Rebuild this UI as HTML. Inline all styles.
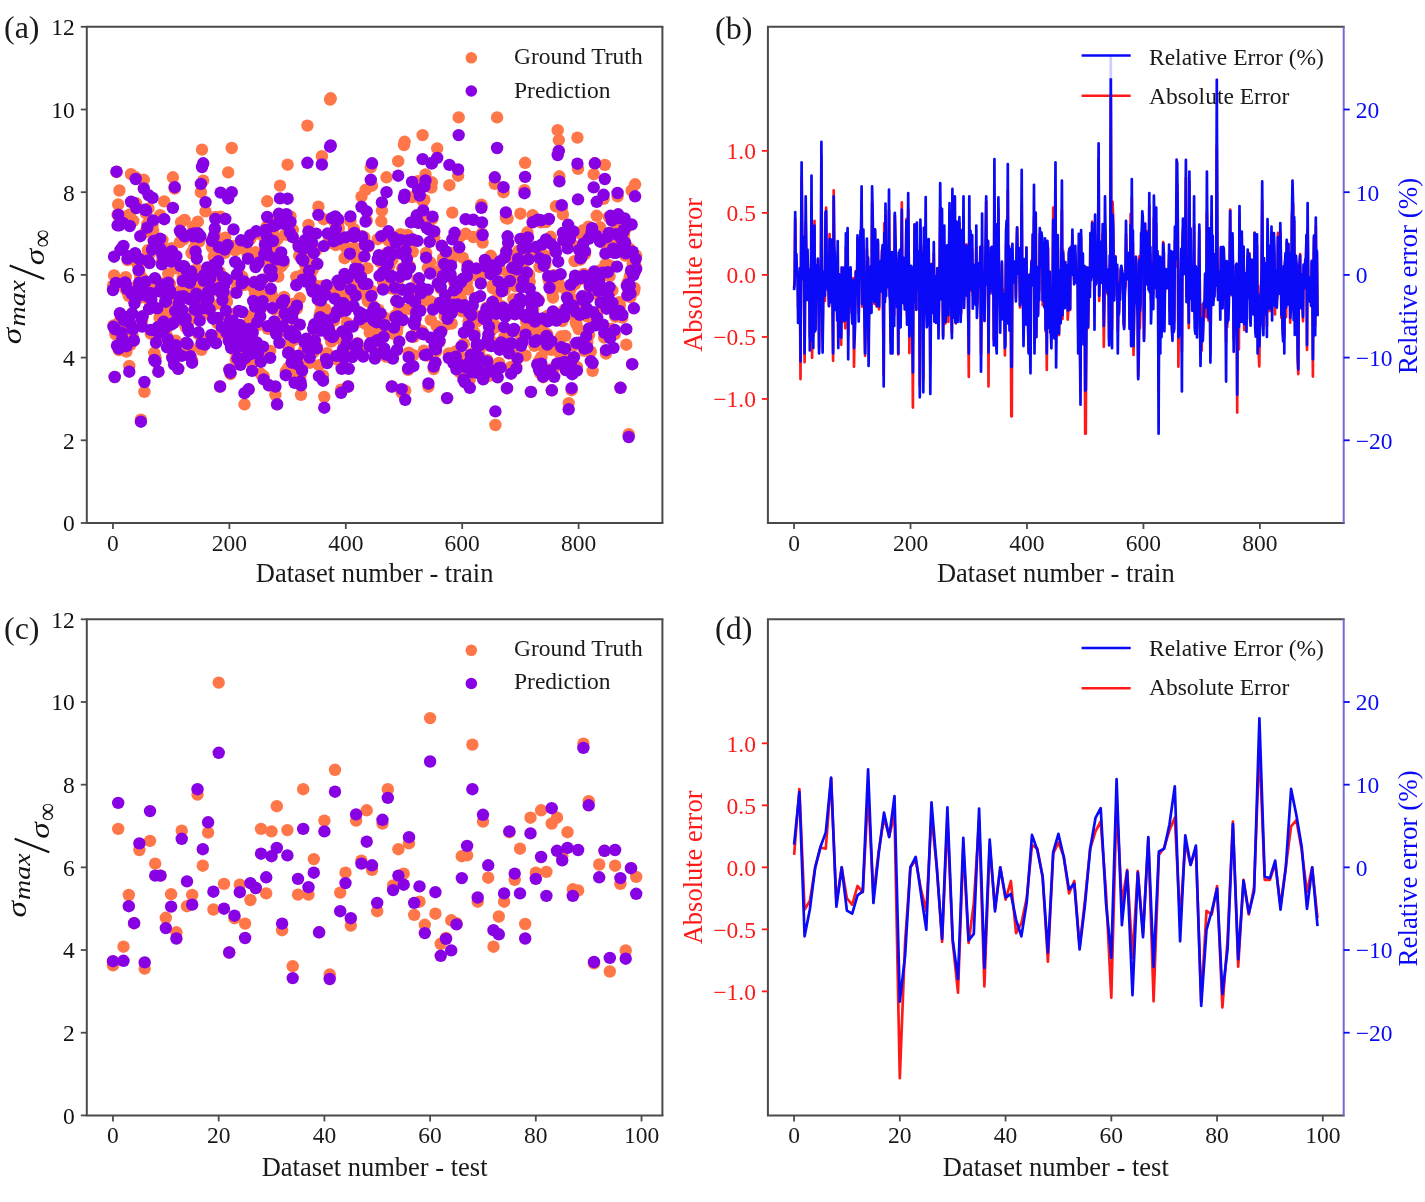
<!DOCTYPE html><html><head><meta charset="utf-8"><style>html,body{margin:0;padding:0;background:#fff;}svg{display:block;filter:blur(0.45px);}</style></head><body>
<svg width="1425" height="1202" viewBox="0 0 1425 1202" font-family='"Liberation Serif", serif' fill="#1a1a1a">
<rect width="1425" height="1202" fill="#fff"/>
<g fill="#ff7648">
<circle cx="113.0" cy="285.7" r="6.2"/>
<circle cx="113.5" cy="325.5" r="6.2"/>
<circle cx="114.1" cy="275.5" r="6.2"/>
<circle cx="114.7" cy="377.0" r="6.2"/>
<circle cx="115.3" cy="334.1" r="6.2"/>
<circle cx="115.9" cy="283.3" r="6.2"/>
<circle cx="116.5" cy="172.0" r="6.2"/>
<circle cx="117.0" cy="334.8" r="6.2"/>
<circle cx="117.6" cy="214.9" r="6.2"/>
<circle cx="118.2" cy="204.5" r="6.2"/>
<circle cx="118.8" cy="350.0" r="6.2"/>
<circle cx="119.4" cy="190.5" r="6.2"/>
<circle cx="119.9" cy="320.8" r="6.2"/>
<circle cx="120.5" cy="282.5" r="6.2"/>
<circle cx="121.1" cy="325.8" r="6.2"/>
<circle cx="121.7" cy="331.7" r="6.2"/>
<circle cx="122.3" cy="346.5" r="6.2"/>
<circle cx="122.9" cy="223.3" r="6.2"/>
<circle cx="123.4" cy="216.8" r="6.2"/>
<circle cx="124.0" cy="317.8" r="6.2"/>
<circle cx="124.6" cy="337.8" r="6.2"/>
<circle cx="125.2" cy="288.7" r="6.2"/>
<circle cx="125.8" cy="277.2" r="6.2"/>
<circle cx="126.4" cy="351.5" r="6.2"/>
<circle cx="126.9" cy="291.1" r="6.2"/>
<circle cx="127.5" cy="260.1" r="6.2"/>
<circle cx="128.1" cy="257.0" r="6.2"/>
<circle cx="128.7" cy="295.8" r="6.2"/>
<circle cx="129.3" cy="365.9" r="6.2"/>
<circle cx="129.8" cy="214.5" r="6.2"/>
<circle cx="130.4" cy="344.8" r="6.2"/>
<circle cx="131.0" cy="174.2" r="6.2"/>
<circle cx="131.6" cy="297.3" r="6.2"/>
<circle cx="132.2" cy="292.9" r="6.2"/>
<circle cx="132.8" cy="336.5" r="6.2"/>
<circle cx="133.3" cy="220.8" r="6.2"/>
<circle cx="133.9" cy="327.1" r="6.2"/>
<circle cx="134.5" cy="287.8" r="6.2"/>
<circle cx="135.1" cy="256.2" r="6.2"/>
<circle cx="135.7" cy="177.3" r="6.2"/>
<circle cx="136.2" cy="203.3" r="6.2"/>
<circle cx="136.8" cy="262.4" r="6.2"/>
<circle cx="137.4" cy="294.8" r="6.2"/>
<circle cx="138.0" cy="264.6" r="6.2"/>
<circle cx="138.6" cy="269.4" r="6.2"/>
<circle cx="139.2" cy="271.7" r="6.2"/>
<circle cx="139.7" cy="258.8" r="6.2"/>
<circle cx="140.3" cy="276.0" r="6.2"/>
<circle cx="140.9" cy="419.6" r="6.2"/>
<circle cx="141.5" cy="297.3" r="6.2"/>
<circle cx="142.1" cy="320.5" r="6.2"/>
<circle cx="142.6" cy="317.0" r="6.2"/>
<circle cx="143.2" cy="279.5" r="6.2"/>
<circle cx="143.8" cy="179.8" r="6.2"/>
<circle cx="144.4" cy="391.9" r="6.2"/>
<circle cx="145.0" cy="232.3" r="6.2"/>
<circle cx="145.6" cy="285.2" r="6.2"/>
<circle cx="146.1" cy="213.4" r="6.2"/>
<circle cx="146.7" cy="291.7" r="6.2"/>
<circle cx="147.3" cy="224.2" r="6.2"/>
<circle cx="147.9" cy="250.2" r="6.2"/>
<circle cx="148.5" cy="208.7" r="6.2"/>
<circle cx="149.1" cy="309.1" r="6.2"/>
<circle cx="149.6" cy="254.2" r="6.2"/>
<circle cx="150.2" cy="302.4" r="6.2"/>
<circle cx="150.8" cy="333.7" r="6.2"/>
<circle cx="151.4" cy="293.3" r="6.2"/>
<circle cx="152.0" cy="221.0" r="6.2"/>
<circle cx="152.5" cy="226.1" r="6.2"/>
<circle cx="153.1" cy="230.8" r="6.2"/>
<circle cx="153.7" cy="247.1" r="6.2"/>
<circle cx="154.3" cy="352.8" r="6.2"/>
<circle cx="154.9" cy="279.7" r="6.2"/>
<circle cx="155.5" cy="357.5" r="6.2"/>
<circle cx="156.0" cy="332.2" r="6.2"/>
<circle cx="156.6" cy="338.6" r="6.2"/>
<circle cx="157.2" cy="287.4" r="6.2"/>
<circle cx="157.8" cy="327.3" r="6.2"/>
<circle cx="158.4" cy="371.7" r="6.2"/>
<circle cx="158.9" cy="285.0" r="6.2"/>
<circle cx="159.5" cy="317.6" r="6.2"/>
<circle cx="160.1" cy="215.2" r="6.2"/>
<circle cx="160.7" cy="251.6" r="6.2"/>
<circle cx="161.3" cy="283.2" r="6.2"/>
<circle cx="161.9" cy="261.3" r="6.2"/>
<circle cx="162.4" cy="240.0" r="6.2"/>
<circle cx="163.0" cy="329.0" r="6.2"/>
<circle cx="163.6" cy="316.6" r="6.2"/>
<circle cx="164.2" cy="201.4" r="6.2"/>
<circle cx="164.8" cy="337.7" r="6.2"/>
<circle cx="165.3" cy="296.0" r="6.2"/>
<circle cx="165.9" cy="310.8" r="6.2"/>
<circle cx="166.5" cy="335.5" r="6.2"/>
<circle cx="167.1" cy="327.5" r="6.2"/>
<circle cx="167.7" cy="338.0" r="6.2"/>
<circle cx="168.3" cy="273.9" r="6.2"/>
<circle cx="168.8" cy="293.1" r="6.2"/>
<circle cx="169.4" cy="293.9" r="6.2"/>
<circle cx="170.0" cy="283.8" r="6.2"/>
<circle cx="170.6" cy="248.9" r="6.2"/>
<circle cx="171.2" cy="312.1" r="6.2"/>
<circle cx="171.8" cy="248.1" r="6.2"/>
<circle cx="172.3" cy="356.8" r="6.2"/>
<circle cx="172.9" cy="177.3" r="6.2"/>
<circle cx="173.5" cy="306.4" r="6.2"/>
<circle cx="174.1" cy="355.0" r="6.2"/>
<circle cx="174.7" cy="188.5" r="6.2"/>
<circle cx="175.2" cy="306.0" r="6.2"/>
<circle cx="175.8" cy="340.8" r="6.2"/>
<circle cx="176.4" cy="268.3" r="6.2"/>
<circle cx="177.0" cy="351.5" r="6.2"/>
<circle cx="177.6" cy="301.6" r="6.2"/>
<circle cx="178.2" cy="368.8" r="6.2"/>
<circle cx="178.7" cy="308.0" r="6.2"/>
<circle cx="179.3" cy="308.2" r="6.2"/>
<circle cx="179.9" cy="242.1" r="6.2"/>
<circle cx="180.5" cy="290.9" r="6.2"/>
<circle cx="181.1" cy="222.2" r="6.2"/>
<circle cx="181.6" cy="354.4" r="6.2"/>
<circle cx="182.2" cy="321.1" r="6.2"/>
<circle cx="182.8" cy="277.9" r="6.2"/>
<circle cx="183.4" cy="283.4" r="6.2"/>
<circle cx="184.0" cy="239.1" r="6.2"/>
<circle cx="184.6" cy="219.9" r="6.2"/>
<circle cx="185.1" cy="313.8" r="6.2"/>
<circle cx="185.7" cy="327.1" r="6.2"/>
<circle cx="186.3" cy="342.9" r="6.2"/>
<circle cx="186.9" cy="276.4" r="6.2"/>
<circle cx="187.5" cy="321.7" r="6.2"/>
<circle cx="188.0" cy="320.7" r="6.2"/>
<circle cx="188.6" cy="321.6" r="6.2"/>
<circle cx="189.2" cy="290.6" r="6.2"/>
<circle cx="189.8" cy="285.4" r="6.2"/>
<circle cx="190.4" cy="348.2" r="6.2"/>
<circle cx="191.0" cy="295.8" r="6.2"/>
<circle cx="191.5" cy="253.1" r="6.2"/>
<circle cx="192.1" cy="360.4" r="6.2"/>
<circle cx="192.7" cy="271.3" r="6.2"/>
<circle cx="193.3" cy="226.8" r="6.2"/>
<circle cx="193.9" cy="248.6" r="6.2"/>
<circle cx="194.5" cy="311.7" r="6.2"/>
<circle cx="195.0" cy="305.2" r="6.2"/>
<circle cx="195.6" cy="240.9" r="6.2"/>
<circle cx="196.2" cy="285.8" r="6.2"/>
<circle cx="196.8" cy="269.2" r="6.2"/>
<circle cx="197.4" cy="302.6" r="6.2"/>
<circle cx="197.9" cy="221.7" r="6.2"/>
<circle cx="198.5" cy="334.4" r="6.2"/>
<circle cx="199.1" cy="241.6" r="6.2"/>
<circle cx="199.7" cy="316.5" r="6.2"/>
<circle cx="200.3" cy="237.4" r="6.2"/>
<circle cx="200.9" cy="192.2" r="6.2"/>
<circle cx="201.4" cy="349.8" r="6.2"/>
<circle cx="202.0" cy="149.6" r="6.2"/>
<circle cx="202.6" cy="274.9" r="6.2"/>
<circle cx="203.2" cy="180.6" r="6.2"/>
<circle cx="203.8" cy="272.5" r="6.2"/>
<circle cx="204.3" cy="294.7" r="6.2"/>
<circle cx="204.9" cy="339.8" r="6.2"/>
<circle cx="205.5" cy="211.4" r="6.2"/>
<circle cx="206.1" cy="297.3" r="6.2"/>
<circle cx="206.7" cy="291.1" r="6.2"/>
<circle cx="207.3" cy="269.8" r="6.2"/>
<circle cx="207.8" cy="313.7" r="6.2"/>
<circle cx="208.4" cy="293.0" r="6.2"/>
<circle cx="209.0" cy="272.5" r="6.2"/>
<circle cx="209.6" cy="287.0" r="6.2"/>
<circle cx="210.2" cy="276.1" r="6.2"/>
<circle cx="210.7" cy="279.3" r="6.2"/>
<circle cx="211.3" cy="315.3" r="6.2"/>
<circle cx="211.9" cy="247.0" r="6.2"/>
<circle cx="212.5" cy="288.3" r="6.2"/>
<circle cx="213.1" cy="305.3" r="6.2"/>
<circle cx="213.7" cy="256.6" r="6.2"/>
<circle cx="214.2" cy="275.8" r="6.2"/>
<circle cx="214.8" cy="233.7" r="6.2"/>
<circle cx="215.4" cy="217.0" r="6.2"/>
<circle cx="216.0" cy="335.9" r="6.2"/>
<circle cx="216.6" cy="290.7" r="6.2"/>
<circle cx="217.2" cy="243.9" r="6.2"/>
<circle cx="217.7" cy="323.3" r="6.2"/>
<circle cx="218.3" cy="247.9" r="6.2"/>
<circle cx="218.9" cy="255.3" r="6.2"/>
<circle cx="219.5" cy="272.0" r="6.2"/>
<circle cx="220.1" cy="386.5" r="6.2"/>
<circle cx="220.6" cy="216.8" r="6.2"/>
<circle cx="221.2" cy="285.5" r="6.2"/>
<circle cx="221.8" cy="320.3" r="6.2"/>
<circle cx="222.4" cy="304.6" r="6.2"/>
<circle cx="223.0" cy="280.8" r="6.2"/>
<circle cx="223.6" cy="281.9" r="6.2"/>
<circle cx="224.1" cy="277.4" r="6.2"/>
<circle cx="224.7" cy="252.8" r="6.2"/>
<circle cx="225.3" cy="237.6" r="6.2"/>
<circle cx="225.9" cy="297.1" r="6.2"/>
<circle cx="226.5" cy="335.0" r="6.2"/>
<circle cx="227.0" cy="301.7" r="6.2"/>
<circle cx="227.6" cy="248.3" r="6.2"/>
<circle cx="228.2" cy="172.4" r="6.2"/>
<circle cx="228.8" cy="330.6" r="6.2"/>
<circle cx="229.4" cy="369.4" r="6.2"/>
<circle cx="230.0" cy="323.2" r="6.2"/>
<circle cx="230.5" cy="374.1" r="6.2"/>
<circle cx="231.1" cy="335.2" r="6.2"/>
<circle cx="231.7" cy="148.0" r="6.2"/>
<circle cx="232.3" cy="328.7" r="6.2"/>
<circle cx="232.9" cy="313.9" r="6.2"/>
<circle cx="233.5" cy="246.2" r="6.2"/>
<circle cx="234.0" cy="350.0" r="6.2"/>
<circle cx="234.6" cy="346.1" r="6.2"/>
<circle cx="235.2" cy="250.4" r="6.2"/>
<circle cx="235.8" cy="359.4" r="6.2"/>
<circle cx="236.4" cy="288.9" r="6.2"/>
<circle cx="236.9" cy="281.2" r="6.2"/>
<circle cx="237.5" cy="360.4" r="6.2"/>
<circle cx="238.1" cy="332.3" r="6.2"/>
<circle cx="238.7" cy="274.2" r="6.2"/>
<circle cx="239.3" cy="282.2" r="6.2"/>
<circle cx="239.9" cy="329.2" r="6.2"/>
<circle cx="240.4" cy="358.8" r="6.2"/>
<circle cx="241.0" cy="247.7" r="6.2"/>
<circle cx="241.6" cy="276.2" r="6.2"/>
<circle cx="242.2" cy="277.0" r="6.2"/>
<circle cx="242.8" cy="353.4" r="6.2"/>
<circle cx="243.3" cy="354.7" r="6.2"/>
<circle cx="243.9" cy="285.1" r="6.2"/>
<circle cx="244.5" cy="404.3" r="6.2"/>
<circle cx="245.1" cy="351.1" r="6.2"/>
<circle cx="245.7" cy="346.1" r="6.2"/>
<circle cx="246.3" cy="326.2" r="6.2"/>
<circle cx="246.8" cy="327.4" r="6.2"/>
<circle cx="247.4" cy="253.9" r="6.2"/>
<circle cx="248.0" cy="251.5" r="6.2"/>
<circle cx="248.6" cy="389.5" r="6.2"/>
<circle cx="249.2" cy="316.1" r="6.2"/>
<circle cx="249.7" cy="319.2" r="6.2"/>
<circle cx="250.3" cy="238.8" r="6.2"/>
<circle cx="250.9" cy="330.9" r="6.2"/>
<circle cx="251.5" cy="353.5" r="6.2"/>
<circle cx="252.1" cy="363.5" r="6.2"/>
<circle cx="252.7" cy="339.7" r="6.2"/>
<circle cx="253.2" cy="287.7" r="6.2"/>
<circle cx="253.8" cy="343.1" r="6.2"/>
<circle cx="254.4" cy="281.8" r="6.2"/>
<circle cx="255.0" cy="293.3" r="6.2"/>
<circle cx="255.6" cy="252.3" r="6.2"/>
<circle cx="256.2" cy="233.5" r="6.2"/>
<circle cx="256.7" cy="342.6" r="6.2"/>
<circle cx="257.3" cy="305.5" r="6.2"/>
<circle cx="257.9" cy="348.3" r="6.2"/>
<circle cx="258.5" cy="263.3" r="6.2"/>
<circle cx="259.1" cy="324.9" r="6.2"/>
<circle cx="259.6" cy="292.4" r="6.2"/>
<circle cx="260.2" cy="310.0" r="6.2"/>
<circle cx="260.8" cy="373.8" r="6.2"/>
<circle cx="261.4" cy="306.2" r="6.2"/>
<circle cx="262.0" cy="259.4" r="6.2"/>
<circle cx="262.6" cy="298.3" r="6.2"/>
<circle cx="263.1" cy="356.6" r="6.2"/>
<circle cx="263.7" cy="376.2" r="6.2"/>
<circle cx="264.3" cy="238.0" r="6.2"/>
<circle cx="264.9" cy="231.7" r="6.2"/>
<circle cx="265.5" cy="234.0" r="6.2"/>
<circle cx="266.0" cy="258.7" r="6.2"/>
<circle cx="266.6" cy="226.9" r="6.2"/>
<circle cx="267.2" cy="201.3" r="6.2"/>
<circle cx="267.8" cy="328.9" r="6.2"/>
<circle cx="268.4" cy="276.8" r="6.2"/>
<circle cx="269.0" cy="385.3" r="6.2"/>
<circle cx="269.5" cy="270.2" r="6.2"/>
<circle cx="270.1" cy="351.0" r="6.2"/>
<circle cx="270.7" cy="269.4" r="6.2"/>
<circle cx="271.3" cy="293.7" r="6.2"/>
<circle cx="271.9" cy="267.5" r="6.2"/>
<circle cx="272.4" cy="296.3" r="6.2"/>
<circle cx="273.0" cy="230.5" r="6.2"/>
<circle cx="273.6" cy="251.8" r="6.2"/>
<circle cx="274.2" cy="309.3" r="6.2"/>
<circle cx="274.8" cy="242.3" r="6.2"/>
<circle cx="275.4" cy="394.8" r="6.2"/>
<circle cx="275.9" cy="323.3" r="6.2"/>
<circle cx="276.5" cy="323.0" r="6.2"/>
<circle cx="277.1" cy="404.3" r="6.2"/>
<circle cx="277.7" cy="238.8" r="6.2"/>
<circle cx="278.3" cy="276.5" r="6.2"/>
<circle cx="278.9" cy="218.7" r="6.2"/>
<circle cx="279.4" cy="331.9" r="6.2"/>
<circle cx="280.0" cy="185.6" r="6.2"/>
<circle cx="280.6" cy="219.0" r="6.2"/>
<circle cx="281.2" cy="266.4" r="6.2"/>
<circle cx="281.8" cy="302.2" r="6.2"/>
<circle cx="282.3" cy="322.9" r="6.2"/>
<circle cx="282.9" cy="318.1" r="6.2"/>
<circle cx="283.5" cy="263.3" r="6.2"/>
<circle cx="284.1" cy="297.0" r="6.2"/>
<circle cx="284.7" cy="314.5" r="6.2"/>
<circle cx="285.3" cy="234.5" r="6.2"/>
<circle cx="285.8" cy="371.3" r="6.2"/>
<circle cx="286.4" cy="215.1" r="6.2"/>
<circle cx="287.0" cy="306.4" r="6.2"/>
<circle cx="287.6" cy="164.7" r="6.2"/>
<circle cx="288.2" cy="368.0" r="6.2"/>
<circle cx="288.7" cy="350.0" r="6.2"/>
<circle cx="289.3" cy="344.2" r="6.2"/>
<circle cx="289.9" cy="235.7" r="6.2"/>
<circle cx="290.5" cy="216.5" r="6.2"/>
<circle cx="291.1" cy="340.1" r="6.2"/>
<circle cx="291.7" cy="355.6" r="6.2"/>
<circle cx="292.2" cy="316.4" r="6.2"/>
<circle cx="292.8" cy="229.9" r="6.2"/>
<circle cx="293.4" cy="303.7" r="6.2"/>
<circle cx="294.0" cy="339.8" r="6.2"/>
<circle cx="294.6" cy="377.5" r="6.2"/>
<circle cx="295.1" cy="367.5" r="6.2"/>
<circle cx="295.7" cy="325.3" r="6.2"/>
<circle cx="296.3" cy="277.0" r="6.2"/>
<circle cx="296.9" cy="308.6" r="6.2"/>
<circle cx="297.5" cy="362.2" r="6.2"/>
<circle cx="298.1" cy="356.4" r="6.2"/>
<circle cx="298.6" cy="244.0" r="6.2"/>
<circle cx="299.2" cy="255.7" r="6.2"/>
<circle cx="299.8" cy="298.3" r="6.2"/>
<circle cx="300.4" cy="376.0" r="6.2"/>
<circle cx="301.0" cy="394.8" r="6.2"/>
<circle cx="301.6" cy="247.0" r="6.2"/>
<circle cx="302.1" cy="365.2" r="6.2"/>
<circle cx="302.7" cy="274.6" r="6.2"/>
<circle cx="303.3" cy="245.2" r="6.2"/>
<circle cx="303.9" cy="246.4" r="6.2"/>
<circle cx="304.5" cy="349.2" r="6.2"/>
<circle cx="305.0" cy="264.7" r="6.2"/>
<circle cx="305.6" cy="278.8" r="6.2"/>
<circle cx="306.2" cy="340.6" r="6.2"/>
<circle cx="306.8" cy="257.4" r="6.2"/>
<circle cx="307.4" cy="125.6" r="6.2"/>
<circle cx="308.0" cy="351.6" r="6.2"/>
<circle cx="308.5" cy="225.0" r="6.2"/>
<circle cx="309.1" cy="270.9" r="6.2"/>
<circle cx="309.7" cy="362.8" r="6.2"/>
<circle cx="310.3" cy="276.3" r="6.2"/>
<circle cx="310.9" cy="250.2" r="6.2"/>
<circle cx="311.4" cy="282.2" r="6.2"/>
<circle cx="312.0" cy="251.7" r="6.2"/>
<circle cx="312.6" cy="270.1" r="6.2"/>
<circle cx="313.2" cy="352.7" r="6.2"/>
<circle cx="313.8" cy="249.7" r="6.2"/>
<circle cx="314.4" cy="331.8" r="6.2"/>
<circle cx="314.9" cy="324.8" r="6.2"/>
<circle cx="315.5" cy="265.1" r="6.2"/>
<circle cx="316.1" cy="250.3" r="6.2"/>
<circle cx="316.7" cy="346.9" r="6.2"/>
<circle cx="317.3" cy="286.1" r="6.2"/>
<circle cx="317.8" cy="294.7" r="6.2"/>
<circle cx="318.4" cy="206.7" r="6.2"/>
<circle cx="319.0" cy="365.1" r="6.2"/>
<circle cx="319.6" cy="315.8" r="6.2"/>
<circle cx="320.2" cy="312.7" r="6.2"/>
<circle cx="320.8" cy="304.0" r="6.2"/>
<circle cx="321.3" cy="319.7" r="6.2"/>
<circle cx="321.9" cy="156.2" r="6.2"/>
<circle cx="322.5" cy="286.0" r="6.2"/>
<circle cx="323.1" cy="375.7" r="6.2"/>
<circle cx="323.7" cy="219.2" r="6.2"/>
<circle cx="324.3" cy="396.9" r="6.2"/>
<circle cx="324.8" cy="329.9" r="6.2"/>
<circle cx="325.4" cy="309.1" r="6.2"/>
<circle cx="326.0" cy="354.3" r="6.2"/>
<circle cx="326.6" cy="313.3" r="6.2"/>
<circle cx="327.2" cy="353.1" r="6.2"/>
<circle cx="327.7" cy="243.0" r="6.2"/>
<circle cx="328.3" cy="313.3" r="6.2"/>
<circle cx="328.9" cy="335.3" r="6.2"/>
<circle cx="329.5" cy="333.3" r="6.2"/>
<circle cx="330.1" cy="99.6" r="6.2"/>
<circle cx="330.7" cy="98.3" r="6.2"/>
<circle cx="331.2" cy="341.6" r="6.2"/>
<circle cx="331.8" cy="219.0" r="6.2"/>
<circle cx="332.4" cy="338.4" r="6.2"/>
<circle cx="333.0" cy="334.7" r="6.2"/>
<circle cx="333.6" cy="243.3" r="6.2"/>
<circle cx="334.1" cy="320.6" r="6.2"/>
<circle cx="334.7" cy="291.1" r="6.2"/>
<circle cx="335.3" cy="223.7" r="6.2"/>
<circle cx="335.9" cy="245.0" r="6.2"/>
<circle cx="336.5" cy="359.0" r="6.2"/>
<circle cx="337.1" cy="311.5" r="6.2"/>
<circle cx="337.6" cy="288.4" r="6.2"/>
<circle cx="338.2" cy="222.6" r="6.2"/>
<circle cx="338.8" cy="228.2" r="6.2"/>
<circle cx="339.4" cy="296.0" r="6.2"/>
<circle cx="340.0" cy="290.8" r="6.2"/>
<circle cx="340.5" cy="335.2" r="6.2"/>
<circle cx="341.1" cy="389.6" r="6.2"/>
<circle cx="341.7" cy="367.0" r="6.2"/>
<circle cx="342.3" cy="313.4" r="6.2"/>
<circle cx="342.9" cy="341.8" r="6.2"/>
<circle cx="343.5" cy="307.4" r="6.2"/>
<circle cx="344.0" cy="350.4" r="6.2"/>
<circle cx="344.6" cy="258.2" r="6.2"/>
<circle cx="345.2" cy="246.5" r="6.2"/>
<circle cx="345.8" cy="298.3" r="6.2"/>
<circle cx="346.4" cy="343.1" r="6.2"/>
<circle cx="347.0" cy="323.0" r="6.2"/>
<circle cx="347.5" cy="252.5" r="6.2"/>
<circle cx="348.1" cy="386.5" r="6.2"/>
<circle cx="348.7" cy="355.5" r="6.2"/>
<circle cx="349.3" cy="300.1" r="6.2"/>
<circle cx="349.9" cy="254.5" r="6.2"/>
<circle cx="350.4" cy="221.2" r="6.2"/>
<circle cx="351.0" cy="286.9" r="6.2"/>
<circle cx="351.6" cy="249.0" r="6.2"/>
<circle cx="352.2" cy="354.8" r="6.2"/>
<circle cx="352.8" cy="345.8" r="6.2"/>
<circle cx="353.4" cy="283.2" r="6.2"/>
<circle cx="353.9" cy="229.1" r="6.2"/>
<circle cx="354.5" cy="253.3" r="6.2"/>
<circle cx="355.1" cy="248.0" r="6.2"/>
<circle cx="355.7" cy="293.0" r="6.2"/>
<circle cx="356.3" cy="351.1" r="6.2"/>
<circle cx="356.8" cy="260.2" r="6.2"/>
<circle cx="357.4" cy="343.1" r="6.2"/>
<circle cx="358.0" cy="347.2" r="6.2"/>
<circle cx="358.6" cy="282.7" r="6.2"/>
<circle cx="359.2" cy="321.1" r="6.2"/>
<circle cx="359.8" cy="321.4" r="6.2"/>
<circle cx="360.3" cy="289.8" r="6.2"/>
<circle cx="360.9" cy="287.7" r="6.2"/>
<circle cx="361.5" cy="196.7" r="6.2"/>
<circle cx="362.1" cy="236.2" r="6.2"/>
<circle cx="362.7" cy="322.1" r="6.2"/>
<circle cx="363.2" cy="349.7" r="6.2"/>
<circle cx="363.8" cy="294.2" r="6.2"/>
<circle cx="364.4" cy="237.4" r="6.2"/>
<circle cx="365.0" cy="243.7" r="6.2"/>
<circle cx="365.6" cy="189.8" r="6.2"/>
<circle cx="366.2" cy="324.3" r="6.2"/>
<circle cx="366.7" cy="220.4" r="6.2"/>
<circle cx="367.3" cy="268.2" r="6.2"/>
<circle cx="367.9" cy="301.2" r="6.2"/>
<circle cx="368.5" cy="246.6" r="6.2"/>
<circle cx="369.1" cy="300.6" r="6.2"/>
<circle cx="369.7" cy="332.7" r="6.2"/>
<circle cx="370.2" cy="325.8" r="6.2"/>
<circle cx="370.8" cy="167.4" r="6.2"/>
<circle cx="371.4" cy="290.6" r="6.2"/>
<circle cx="372.0" cy="185.7" r="6.2"/>
<circle cx="372.6" cy="305.5" r="6.2"/>
<circle cx="373.1" cy="327.7" r="6.2"/>
<circle cx="373.7" cy="327.6" r="6.2"/>
<circle cx="374.3" cy="333.4" r="6.2"/>
<circle cx="374.9" cy="337.8" r="6.2"/>
<circle cx="375.5" cy="344.1" r="6.2"/>
<circle cx="376.1" cy="328.0" r="6.2"/>
<circle cx="376.6" cy="331.5" r="6.2"/>
<circle cx="377.2" cy="335.7" r="6.2"/>
<circle cx="377.8" cy="239.2" r="6.2"/>
<circle cx="378.4" cy="309.7" r="6.2"/>
<circle cx="379.0" cy="256.5" r="6.2"/>
<circle cx="379.5" cy="260.5" r="6.2"/>
<circle cx="380.1" cy="261.9" r="6.2"/>
<circle cx="380.7" cy="335.1" r="6.2"/>
<circle cx="381.3" cy="221.3" r="6.2"/>
<circle cx="381.9" cy="210.6" r="6.2"/>
<circle cx="382.5" cy="274.5" r="6.2"/>
<circle cx="383.0" cy="282.0" r="6.2"/>
<circle cx="383.6" cy="329.2" r="6.2"/>
<circle cx="384.2" cy="351.2" r="6.2"/>
<circle cx="384.8" cy="317.8" r="6.2"/>
<circle cx="385.4" cy="257.8" r="6.2"/>
<circle cx="386.0" cy="356.5" r="6.2"/>
<circle cx="386.5" cy="177.3" r="6.2"/>
<circle cx="387.1" cy="252.9" r="6.2"/>
<circle cx="387.7" cy="271.0" r="6.2"/>
<circle cx="388.3" cy="240.2" r="6.2"/>
<circle cx="388.9" cy="240.6" r="6.2"/>
<circle cx="389.4" cy="265.8" r="6.2"/>
<circle cx="390.0" cy="357.4" r="6.2"/>
<circle cx="390.6" cy="278.8" r="6.2"/>
<circle cx="391.2" cy="288.4" r="6.2"/>
<circle cx="391.8" cy="386.5" r="6.2"/>
<circle cx="392.4" cy="259.5" r="6.2"/>
<circle cx="392.9" cy="356.7" r="6.2"/>
<circle cx="393.5" cy="241.0" r="6.2"/>
<circle cx="394.1" cy="334.2" r="6.2"/>
<circle cx="394.7" cy="289.0" r="6.2"/>
<circle cx="395.3" cy="315.5" r="6.2"/>
<circle cx="395.8" cy="241.5" r="6.2"/>
<circle cx="396.4" cy="301.3" r="6.2"/>
<circle cx="397.0" cy="331.8" r="6.2"/>
<circle cx="397.6" cy="326.2" r="6.2"/>
<circle cx="398.2" cy="161.2" r="6.2"/>
<circle cx="398.8" cy="278.9" r="6.2"/>
<circle cx="399.3" cy="307.9" r="6.2"/>
<circle cx="399.9" cy="289.3" r="6.2"/>
<circle cx="400.5" cy="234.1" r="6.2"/>
<circle cx="401.1" cy="250.1" r="6.2"/>
<circle cx="401.7" cy="392.5" r="6.2"/>
<circle cx="402.2" cy="268.3" r="6.2"/>
<circle cx="402.8" cy="309.8" r="6.2"/>
<circle cx="403.4" cy="271.3" r="6.2"/>
<circle cx="404.0" cy="145.1" r="6.2"/>
<circle cx="404.6" cy="141.8" r="6.2"/>
<circle cx="405.2" cy="390.7" r="6.2"/>
<circle cx="405.7" cy="253.5" r="6.2"/>
<circle cx="406.3" cy="272.6" r="6.2"/>
<circle cx="406.9" cy="241.3" r="6.2"/>
<circle cx="407.5" cy="235.0" r="6.2"/>
<circle cx="408.1" cy="369.9" r="6.2"/>
<circle cx="408.7" cy="352.7" r="6.2"/>
<circle cx="409.2" cy="309.0" r="6.2"/>
<circle cx="409.8" cy="266.3" r="6.2"/>
<circle cx="410.4" cy="293.2" r="6.2"/>
<circle cx="411.0" cy="240.2" r="6.2"/>
<circle cx="411.6" cy="336.2" r="6.2"/>
<circle cx="412.1" cy="197.1" r="6.2"/>
<circle cx="412.7" cy="251.8" r="6.2"/>
<circle cx="413.3" cy="355.1" r="6.2"/>
<circle cx="413.9" cy="336.9" r="6.2"/>
<circle cx="414.5" cy="322.0" r="6.2"/>
<circle cx="415.1" cy="299.9" r="6.2"/>
<circle cx="415.6" cy="325.6" r="6.2"/>
<circle cx="416.2" cy="313.4" r="6.2"/>
<circle cx="416.8" cy="217.9" r="6.2"/>
<circle cx="417.4" cy="279.6" r="6.2"/>
<circle cx="418.0" cy="181.1" r="6.2"/>
<circle cx="418.5" cy="222.5" r="6.2"/>
<circle cx="419.1" cy="287.8" r="6.2"/>
<circle cx="419.7" cy="197.7" r="6.2"/>
<circle cx="420.3" cy="308.8" r="6.2"/>
<circle cx="420.9" cy="292.8" r="6.2"/>
<circle cx="421.5" cy="301.4" r="6.2"/>
<circle cx="422.0" cy="331.0" r="6.2"/>
<circle cx="422.6" cy="135.1" r="6.2"/>
<circle cx="423.2" cy="201.3" r="6.2"/>
<circle cx="423.8" cy="350.7" r="6.2"/>
<circle cx="424.4" cy="199.7" r="6.2"/>
<circle cx="424.9" cy="354.1" r="6.2"/>
<circle cx="425.5" cy="174.5" r="6.2"/>
<circle cx="426.1" cy="252.9" r="6.2"/>
<circle cx="426.7" cy="221.2" r="6.2"/>
<circle cx="427.3" cy="355.6" r="6.2"/>
<circle cx="427.9" cy="267.9" r="6.2"/>
<circle cx="428.4" cy="386.7" r="6.2"/>
<circle cx="429.0" cy="222.2" r="6.2"/>
<circle cx="429.6" cy="300.8" r="6.2"/>
<circle cx="430.2" cy="262.3" r="6.2"/>
<circle cx="430.8" cy="319.8" r="6.2"/>
<circle cx="431.4" cy="187.6" r="6.2"/>
<circle cx="431.9" cy="182.3" r="6.2"/>
<circle cx="432.5" cy="218.7" r="6.2"/>
<circle cx="433.1" cy="302.7" r="6.2"/>
<circle cx="433.7" cy="369.1" r="6.2"/>
<circle cx="434.3" cy="237.6" r="6.2"/>
<circle cx="434.8" cy="345.1" r="6.2"/>
<circle cx="435.4" cy="362.3" r="6.2"/>
<circle cx="436.0" cy="351.5" r="6.2"/>
<circle cx="436.6" cy="326.1" r="6.2"/>
<circle cx="437.2" cy="148.4" r="6.2"/>
<circle cx="437.8" cy="271.4" r="6.2"/>
<circle cx="438.3" cy="338.1" r="6.2"/>
<circle cx="438.9" cy="328.1" r="6.2"/>
<circle cx="439.5" cy="342.1" r="6.2"/>
<circle cx="440.1" cy="305.0" r="6.2"/>
<circle cx="440.7" cy="288.7" r="6.2"/>
<circle cx="441.2" cy="331.0" r="6.2"/>
<circle cx="441.8" cy="246.2" r="6.2"/>
<circle cx="442.4" cy="263.4" r="6.2"/>
<circle cx="443.0" cy="258.3" r="6.2"/>
<circle cx="443.6" cy="304.0" r="6.2"/>
<circle cx="444.2" cy="260.8" r="6.2"/>
<circle cx="444.7" cy="316.0" r="6.2"/>
<circle cx="445.3" cy="300.2" r="6.2"/>
<circle cx="445.9" cy="255.0" r="6.2"/>
<circle cx="446.5" cy="272.3" r="6.2"/>
<circle cx="447.1" cy="398.1" r="6.2"/>
<circle cx="447.6" cy="324.2" r="6.2"/>
<circle cx="448.2" cy="302.0" r="6.2"/>
<circle cx="448.8" cy="353.4" r="6.2"/>
<circle cx="449.4" cy="185.2" r="6.2"/>
<circle cx="450.0" cy="252.8" r="6.2"/>
<circle cx="450.6" cy="300.2" r="6.2"/>
<circle cx="451.1" cy="260.8" r="6.2"/>
<circle cx="451.7" cy="323.5" r="6.2"/>
<circle cx="452.3" cy="212.6" r="6.2"/>
<circle cx="452.9" cy="293.8" r="6.2"/>
<circle cx="453.5" cy="361.8" r="6.2"/>
<circle cx="454.1" cy="282.1" r="6.2"/>
<circle cx="454.6" cy="238.9" r="6.2"/>
<circle cx="455.2" cy="285.0" r="6.2"/>
<circle cx="455.8" cy="351.4" r="6.2"/>
<circle cx="456.4" cy="361.2" r="6.2"/>
<circle cx="457.0" cy="254.2" r="6.2"/>
<circle cx="457.5" cy="281.6" r="6.2"/>
<circle cx="458.1" cy="175.7" r="6.2"/>
<circle cx="458.7" cy="117.4" r="6.2"/>
<circle cx="459.3" cy="237.3" r="6.2"/>
<circle cx="459.9" cy="372.3" r="6.2"/>
<circle cx="460.5" cy="292.4" r="6.2"/>
<circle cx="461.0" cy="299.2" r="6.2"/>
<circle cx="461.6" cy="357.7" r="6.2"/>
<circle cx="462.2" cy="311.3" r="6.2"/>
<circle cx="462.8" cy="257.6" r="6.2"/>
<circle cx="463.4" cy="373.4" r="6.2"/>
<circle cx="463.9" cy="343.7" r="6.2"/>
<circle cx="464.5" cy="309.0" r="6.2"/>
<circle cx="465.1" cy="382.4" r="6.2"/>
<circle cx="465.7" cy="233.8" r="6.2"/>
<circle cx="466.3" cy="365.6" r="6.2"/>
<circle cx="466.9" cy="282.3" r="6.2"/>
<circle cx="467.4" cy="264.7" r="6.2"/>
<circle cx="468.0" cy="289.3" r="6.2"/>
<circle cx="468.6" cy="322.0" r="6.2"/>
<circle cx="469.2" cy="319.1" r="6.2"/>
<circle cx="469.8" cy="379.4" r="6.2"/>
<circle cx="470.3" cy="355.6" r="6.2"/>
<circle cx="470.9" cy="354.3" r="6.2"/>
<circle cx="471.5" cy="317.8" r="6.2"/>
<circle cx="472.1" cy="365.9" r="6.2"/>
<circle cx="472.7" cy="324.6" r="6.2"/>
<circle cx="473.3" cy="237.0" r="6.2"/>
<circle cx="473.8" cy="372.5" r="6.2"/>
<circle cx="474.4" cy="333.0" r="6.2"/>
<circle cx="475.0" cy="315.3" r="6.2"/>
<circle cx="475.6" cy="350.9" r="6.2"/>
<circle cx="476.2" cy="275.5" r="6.2"/>
<circle cx="476.8" cy="346.5" r="6.2"/>
<circle cx="477.3" cy="321.0" r="6.2"/>
<circle cx="477.9" cy="372.9" r="6.2"/>
<circle cx="478.5" cy="360.3" r="6.2"/>
<circle cx="479.1" cy="354.1" r="6.2"/>
<circle cx="479.7" cy="348.9" r="6.2"/>
<circle cx="480.2" cy="277.7" r="6.2"/>
<circle cx="480.8" cy="270.3" r="6.2"/>
<circle cx="481.4" cy="204.8" r="6.2"/>
<circle cx="482.0" cy="233.4" r="6.2"/>
<circle cx="482.6" cy="242.5" r="6.2"/>
<circle cx="483.2" cy="368.8" r="6.2"/>
<circle cx="483.7" cy="315.7" r="6.2"/>
<circle cx="484.3" cy="315.6" r="6.2"/>
<circle cx="484.9" cy="261.8" r="6.2"/>
<circle cx="485.5" cy="262.0" r="6.2"/>
<circle cx="486.1" cy="319.5" r="6.2"/>
<circle cx="486.6" cy="307.7" r="6.2"/>
<circle cx="487.2" cy="360.0" r="6.2"/>
<circle cx="487.8" cy="345.2" r="6.2"/>
<circle cx="488.4" cy="322.4" r="6.2"/>
<circle cx="489.0" cy="317.8" r="6.2"/>
<circle cx="489.6" cy="375.7" r="6.2"/>
<circle cx="490.1" cy="339.9" r="6.2"/>
<circle cx="490.7" cy="255.8" r="6.2"/>
<circle cx="491.3" cy="330.6" r="6.2"/>
<circle cx="491.9" cy="272.4" r="6.2"/>
<circle cx="492.5" cy="285.6" r="6.2"/>
<circle cx="493.0" cy="288.4" r="6.2"/>
<circle cx="493.6" cy="324.1" r="6.2"/>
<circle cx="494.2" cy="373.4" r="6.2"/>
<circle cx="494.8" cy="183.9" r="6.2"/>
<circle cx="495.4" cy="425.0" r="6.2"/>
<circle cx="496.0" cy="299.8" r="6.2"/>
<circle cx="496.5" cy="326.8" r="6.2"/>
<circle cx="497.1" cy="117.4" r="6.2"/>
<circle cx="497.7" cy="365.8" r="6.2"/>
<circle cx="498.3" cy="263.2" r="6.2"/>
<circle cx="498.9" cy="362.9" r="6.2"/>
<circle cx="499.5" cy="346.4" r="6.2"/>
<circle cx="500.0" cy="269.3" r="6.2"/>
<circle cx="500.6" cy="342.1" r="6.2"/>
<circle cx="501.2" cy="349.1" r="6.2"/>
<circle cx="501.8" cy="306.2" r="6.2"/>
<circle cx="502.4" cy="288.3" r="6.2"/>
<circle cx="502.9" cy="311.5" r="6.2"/>
<circle cx="503.5" cy="192.2" r="6.2"/>
<circle cx="504.1" cy="337.5" r="6.2"/>
<circle cx="504.7" cy="290.1" r="6.2"/>
<circle cx="505.3" cy="309.5" r="6.2"/>
<circle cx="505.9" cy="217.8" r="6.2"/>
<circle cx="506.4" cy="250.9" r="6.2"/>
<circle cx="507.0" cy="388.2" r="6.2"/>
<circle cx="507.6" cy="218.6" r="6.2"/>
<circle cx="508.2" cy="274.1" r="6.2"/>
<circle cx="508.8" cy="347.9" r="6.2"/>
<circle cx="509.3" cy="353.5" r="6.2"/>
<circle cx="509.9" cy="278.7" r="6.2"/>
<circle cx="510.5" cy="312.3" r="6.2"/>
<circle cx="511.1" cy="366.9" r="6.2"/>
<circle cx="511.7" cy="345.0" r="6.2"/>
<circle cx="512.3" cy="257.5" r="6.2"/>
<circle cx="512.8" cy="347.7" r="6.2"/>
<circle cx="513.4" cy="299.2" r="6.2"/>
<circle cx="514.0" cy="314.1" r="6.2"/>
<circle cx="514.6" cy="307.5" r="6.2"/>
<circle cx="515.2" cy="314.0" r="6.2"/>
<circle cx="515.7" cy="286.3" r="6.2"/>
<circle cx="516.3" cy="366.8" r="6.2"/>
<circle cx="516.9" cy="271.6" r="6.2"/>
<circle cx="517.5" cy="357.5" r="6.2"/>
<circle cx="518.1" cy="273.7" r="6.2"/>
<circle cx="518.7" cy="250.6" r="6.2"/>
<circle cx="519.2" cy="278.0" r="6.2"/>
<circle cx="519.8" cy="283.1" r="6.2"/>
<circle cx="520.4" cy="213.7" r="6.2"/>
<circle cx="521.0" cy="336.0" r="6.2"/>
<circle cx="521.6" cy="266.9" r="6.2"/>
<circle cx="522.2" cy="331.8" r="6.2"/>
<circle cx="522.7" cy="238.8" r="6.2"/>
<circle cx="523.3" cy="269.8" r="6.2"/>
<circle cx="523.9" cy="315.4" r="6.2"/>
<circle cx="524.5" cy="190.2" r="6.2"/>
<circle cx="525.1" cy="162.8" r="6.2"/>
<circle cx="525.6" cy="355.5" r="6.2"/>
<circle cx="526.2" cy="321.6" r="6.2"/>
<circle cx="526.8" cy="260.4" r="6.2"/>
<circle cx="527.4" cy="232.3" r="6.2"/>
<circle cx="528.0" cy="252.7" r="6.2"/>
<circle cx="528.6" cy="258.6" r="6.2"/>
<circle cx="529.1" cy="274.7" r="6.2"/>
<circle cx="529.7" cy="281.7" r="6.2"/>
<circle cx="530.3" cy="318.2" r="6.2"/>
<circle cx="530.9" cy="391.9" r="6.2"/>
<circle cx="531.5" cy="327.6" r="6.2"/>
<circle cx="532.0" cy="300.1" r="6.2"/>
<circle cx="532.6" cy="215.1" r="6.2"/>
<circle cx="533.2" cy="309.5" r="6.2"/>
<circle cx="533.8" cy="305.1" r="6.2"/>
<circle cx="534.4" cy="345.8" r="6.2"/>
<circle cx="535.0" cy="318.9" r="6.2"/>
<circle cx="535.5" cy="340.4" r="6.2"/>
<circle cx="536.1" cy="252.6" r="6.2"/>
<circle cx="536.7" cy="334.5" r="6.2"/>
<circle cx="537.3" cy="364.3" r="6.2"/>
<circle cx="537.9" cy="220.8" r="6.2"/>
<circle cx="538.5" cy="299.8" r="6.2"/>
<circle cx="539.0" cy="360.9" r="6.2"/>
<circle cx="539.6" cy="266.8" r="6.2"/>
<circle cx="540.2" cy="373.2" r="6.2"/>
<circle cx="540.8" cy="222.3" r="6.2"/>
<circle cx="541.4" cy="357.0" r="6.2"/>
<circle cx="541.9" cy="253.6" r="6.2"/>
<circle cx="542.5" cy="324.7" r="6.2"/>
<circle cx="543.1" cy="377.2" r="6.2"/>
<circle cx="543.7" cy="260.7" r="6.2"/>
<circle cx="544.3" cy="255.6" r="6.2"/>
<circle cx="544.9" cy="349.4" r="6.2"/>
<circle cx="545.4" cy="264.4" r="6.2"/>
<circle cx="546.0" cy="222.0" r="6.2"/>
<circle cx="546.6" cy="338.6" r="6.2"/>
<circle cx="547.2" cy="334.2" r="6.2"/>
<circle cx="547.8" cy="315.6" r="6.2"/>
<circle cx="548.3" cy="278.3" r="6.2"/>
<circle cx="548.9" cy="240.8" r="6.2"/>
<circle cx="549.5" cy="282.5" r="6.2"/>
<circle cx="550.1" cy="369.7" r="6.2"/>
<circle cx="550.7" cy="236.8" r="6.2"/>
<circle cx="551.3" cy="349.9" r="6.2"/>
<circle cx="551.8" cy="390.3" r="6.2"/>
<circle cx="552.4" cy="292.8" r="6.2"/>
<circle cx="553.0" cy="297.5" r="6.2"/>
<circle cx="553.6" cy="275.3" r="6.2"/>
<circle cx="554.2" cy="367.7" r="6.2"/>
<circle cx="554.7" cy="250.5" r="6.2"/>
<circle cx="555.3" cy="319.7" r="6.2"/>
<circle cx="555.9" cy="206.3" r="6.2"/>
<circle cx="556.5" cy="320.3" r="6.2"/>
<circle cx="557.1" cy="364.3" r="6.2"/>
<circle cx="557.7" cy="130.2" r="6.2"/>
<circle cx="558.2" cy="281.7" r="6.2"/>
<circle cx="558.8" cy="140.1" r="6.2"/>
<circle cx="559.4" cy="176.3" r="6.2"/>
<circle cx="560.0" cy="353.7" r="6.2"/>
<circle cx="560.6" cy="286.6" r="6.2"/>
<circle cx="561.2" cy="336.5" r="6.2"/>
<circle cx="561.7" cy="208.5" r="6.2"/>
<circle cx="562.3" cy="321.0" r="6.2"/>
<circle cx="562.9" cy="214.4" r="6.2"/>
<circle cx="563.5" cy="240.8" r="6.2"/>
<circle cx="564.1" cy="310.2" r="6.2"/>
<circle cx="564.6" cy="360.3" r="6.2"/>
<circle cx="565.2" cy="335.9" r="6.2"/>
<circle cx="565.8" cy="370.1" r="6.2"/>
<circle cx="566.4" cy="315.0" r="6.2"/>
<circle cx="567.0" cy="291.3" r="6.2"/>
<circle cx="567.6" cy="245.3" r="6.2"/>
<circle cx="568.1" cy="232.0" r="6.2"/>
<circle cx="568.7" cy="403.1" r="6.2"/>
<circle cx="569.3" cy="289.1" r="6.2"/>
<circle cx="569.9" cy="230.5" r="6.2"/>
<circle cx="570.5" cy="289.2" r="6.2"/>
<circle cx="571.0" cy="358.5" r="6.2"/>
<circle cx="571.6" cy="390.2" r="6.2"/>
<circle cx="572.2" cy="366.7" r="6.2"/>
<circle cx="572.8" cy="299.5" r="6.2"/>
<circle cx="573.4" cy="245.5" r="6.2"/>
<circle cx="574.0" cy="345.6" r="6.2"/>
<circle cx="574.5" cy="261.1" r="6.2"/>
<circle cx="575.1" cy="284.0" r="6.2"/>
<circle cx="575.7" cy="321.7" r="6.2"/>
<circle cx="576.3" cy="324.1" r="6.2"/>
<circle cx="576.9" cy="367.0" r="6.2"/>
<circle cx="577.4" cy="137.6" r="6.2"/>
<circle cx="578.0" cy="168.9" r="6.2"/>
<circle cx="578.6" cy="329.1" r="6.2"/>
<circle cx="579.2" cy="233.2" r="6.2"/>
<circle cx="579.8" cy="309.4" r="6.2"/>
<circle cx="580.4" cy="259.7" r="6.2"/>
<circle cx="580.9" cy="303.0" r="6.2"/>
<circle cx="581.5" cy="256.9" r="6.2"/>
<circle cx="582.1" cy="278.5" r="6.2"/>
<circle cx="582.7" cy="304.5" r="6.2"/>
<circle cx="583.3" cy="230.1" r="6.2"/>
<circle cx="583.9" cy="273.9" r="6.2"/>
<circle cx="584.4" cy="350.9" r="6.2"/>
<circle cx="585.0" cy="254.0" r="6.2"/>
<circle cx="585.6" cy="296.1" r="6.2"/>
<circle cx="586.2" cy="348.2" r="6.2"/>
<circle cx="586.8" cy="316.3" r="6.2"/>
<circle cx="587.3" cy="342.1" r="6.2"/>
<circle cx="587.9" cy="295.4" r="6.2"/>
<circle cx="588.5" cy="226.7" r="6.2"/>
<circle cx="589.1" cy="335.1" r="6.2"/>
<circle cx="589.7" cy="283.6" r="6.2"/>
<circle cx="590.3" cy="289.8" r="6.2"/>
<circle cx="590.8" cy="351.7" r="6.2"/>
<circle cx="591.4" cy="233.2" r="6.2"/>
<circle cx="592.0" cy="237.1" r="6.2"/>
<circle cx="592.6" cy="370.8" r="6.2"/>
<circle cx="593.2" cy="319.2" r="6.2"/>
<circle cx="593.7" cy="174.2" r="6.2"/>
<circle cx="594.3" cy="272.7" r="6.2"/>
<circle cx="594.9" cy="163.3" r="6.2"/>
<circle cx="595.5" cy="317.2" r="6.2"/>
<circle cx="596.1" cy="228.9" r="6.2"/>
<circle cx="596.7" cy="215.8" r="6.2"/>
<circle cx="597.2" cy="313.0" r="6.2"/>
<circle cx="597.8" cy="294.5" r="6.2"/>
<circle cx="598.4" cy="285.5" r="6.2"/>
<circle cx="599.0" cy="293.3" r="6.2"/>
<circle cx="599.6" cy="290.2" r="6.2"/>
<circle cx="600.1" cy="227.3" r="6.2"/>
<circle cx="600.7" cy="297.9" r="6.2"/>
<circle cx="601.3" cy="270.0" r="6.2"/>
<circle cx="601.9" cy="307.5" r="6.2"/>
<circle cx="602.5" cy="275.4" r="6.2"/>
<circle cx="603.1" cy="303.9" r="6.2"/>
<circle cx="603.6" cy="198.9" r="6.2"/>
<circle cx="604.2" cy="337.6" r="6.2"/>
<circle cx="604.8" cy="164.9" r="6.2"/>
<circle cx="605.4" cy="264.5" r="6.2"/>
<circle cx="606.0" cy="353.5" r="6.2"/>
<circle cx="606.6" cy="300.8" r="6.2"/>
<circle cx="607.1" cy="247.5" r="6.2"/>
<circle cx="607.7" cy="264.7" r="6.2"/>
<circle cx="608.3" cy="301.9" r="6.2"/>
<circle cx="608.9" cy="217.0" r="6.2"/>
<circle cx="609.5" cy="276.2" r="6.2"/>
<circle cx="610.0" cy="331.1" r="6.2"/>
<circle cx="610.6" cy="235.4" r="6.2"/>
<circle cx="611.2" cy="328.8" r="6.2"/>
<circle cx="611.8" cy="244.1" r="6.2"/>
<circle cx="612.4" cy="290.3" r="6.2"/>
<circle cx="613.0" cy="266.6" r="6.2"/>
<circle cx="613.5" cy="334.1" r="6.2"/>
<circle cx="614.1" cy="250.3" r="6.2"/>
<circle cx="614.7" cy="334.3" r="6.2"/>
<circle cx="615.3" cy="316.7" r="6.2"/>
<circle cx="615.9" cy="230.5" r="6.2"/>
<circle cx="616.4" cy="224.3" r="6.2"/>
<circle cx="617.0" cy="233.6" r="6.2"/>
<circle cx="617.6" cy="196.3" r="6.2"/>
<circle cx="618.2" cy="217.8" r="6.2"/>
<circle cx="618.8" cy="225.1" r="6.2"/>
<circle cx="619.4" cy="302.1" r="6.2"/>
<circle cx="619.9" cy="305.4" r="6.2"/>
<circle cx="620.5" cy="387.8" r="6.2"/>
<circle cx="621.1" cy="230.0" r="6.2"/>
<circle cx="621.7" cy="218.8" r="6.2"/>
<circle cx="622.3" cy="317.6" r="6.2"/>
<circle cx="622.8" cy="243.6" r="6.2"/>
<circle cx="623.4" cy="226.7" r="6.2"/>
<circle cx="624.0" cy="235.0" r="6.2"/>
<circle cx="624.6" cy="222.9" r="6.2"/>
<circle cx="625.2" cy="255.6" r="6.2"/>
<circle cx="625.8" cy="228.4" r="6.2"/>
<circle cx="626.3" cy="344.7" r="6.2"/>
<circle cx="626.9" cy="284.6" r="6.2"/>
<circle cx="627.5" cy="294.7" r="6.2"/>
<circle cx="628.1" cy="281.9" r="6.2"/>
<circle cx="628.7" cy="434.1" r="6.2"/>
<circle cx="629.3" cy="248.6" r="6.2"/>
<circle cx="629.8" cy="276.3" r="6.2"/>
<circle cx="630.4" cy="297.2" r="6.2"/>
<circle cx="631.0" cy="272.7" r="6.2"/>
<circle cx="631.6" cy="190.5" r="6.2"/>
<circle cx="632.2" cy="364.2" r="6.2"/>
<circle cx="632.7" cy="264.0" r="6.2"/>
<circle cx="633.3" cy="269.2" r="6.2"/>
<circle cx="633.9" cy="291.4" r="6.2"/>
<circle cx="634.5" cy="288.2" r="6.2"/>
<circle cx="635.1" cy="184.3" r="6.2"/>
<circle cx="635.7" cy="266.5" r="6.2"/>
<circle cx="636.2" cy="255.7" r="6.2"/>
</g>
<g fill="#8800e4">
<circle cx="113.0" cy="290.0" r="6.2"/>
<circle cx="113.5" cy="326.8" r="6.2"/>
<circle cx="114.1" cy="256.7" r="6.2"/>
<circle cx="114.7" cy="377.0" r="6.2"/>
<circle cx="115.3" cy="329.4" r="6.2"/>
<circle cx="115.9" cy="283.0" r="6.2"/>
<circle cx="116.5" cy="171.7" r="6.2"/>
<circle cx="117.0" cy="345.7" r="6.2"/>
<circle cx="117.6" cy="225.3" r="6.2"/>
<circle cx="118.2" cy="214.7" r="6.2"/>
<circle cx="118.8" cy="348.6" r="6.2"/>
<circle cx="119.4" cy="225.3" r="6.2"/>
<circle cx="119.9" cy="313.2" r="6.2"/>
<circle cx="120.5" cy="249.8" r="6.2"/>
<circle cx="121.1" cy="315.6" r="6.2"/>
<circle cx="121.7" cy="332.7" r="6.2"/>
<circle cx="122.3" cy="338.3" r="6.2"/>
<circle cx="122.9" cy="222.9" r="6.2"/>
<circle cx="123.4" cy="245.9" r="6.2"/>
<circle cx="124.0" cy="320.3" r="6.2"/>
<circle cx="124.6" cy="320.2" r="6.2"/>
<circle cx="125.2" cy="282.5" r="6.2"/>
<circle cx="125.8" cy="284.7" r="6.2"/>
<circle cx="126.4" cy="346.2" r="6.2"/>
<circle cx="126.9" cy="289.1" r="6.2"/>
<circle cx="127.5" cy="258.6" r="6.2"/>
<circle cx="128.1" cy="256.3" r="6.2"/>
<circle cx="128.7" cy="316.6" r="6.2"/>
<circle cx="129.3" cy="371.7" r="6.2"/>
<circle cx="129.8" cy="226.0" r="6.2"/>
<circle cx="130.4" cy="323.4" r="6.2"/>
<circle cx="131.0" cy="201.8" r="6.2"/>
<circle cx="131.6" cy="293.8" r="6.2"/>
<circle cx="132.2" cy="313.3" r="6.2"/>
<circle cx="132.8" cy="329.3" r="6.2"/>
<circle cx="133.3" cy="202.7" r="6.2"/>
<circle cx="133.9" cy="340.5" r="6.2"/>
<circle cx="134.5" cy="303.3" r="6.2"/>
<circle cx="135.1" cy="253.1" r="6.2"/>
<circle cx="135.7" cy="179.0" r="6.2"/>
<circle cx="136.2" cy="208.1" r="6.2"/>
<circle cx="136.8" cy="257.3" r="6.2"/>
<circle cx="137.4" cy="296.5" r="6.2"/>
<circle cx="138.0" cy="289.1" r="6.2"/>
<circle cx="138.6" cy="270.2" r="6.2"/>
<circle cx="139.2" cy="282.6" r="6.2"/>
<circle cx="139.7" cy="259.3" r="6.2"/>
<circle cx="140.3" cy="236.2" r="6.2"/>
<circle cx="140.9" cy="421.7" r="6.2"/>
<circle cx="141.5" cy="318.5" r="6.2"/>
<circle cx="142.1" cy="326.6" r="6.2"/>
<circle cx="142.6" cy="316.1" r="6.2"/>
<circle cx="143.2" cy="285.0" r="6.2"/>
<circle cx="143.8" cy="188.5" r="6.2"/>
<circle cx="144.4" cy="382.0" r="6.2"/>
<circle cx="145.0" cy="209.8" r="6.2"/>
<circle cx="145.6" cy="281.7" r="6.2"/>
<circle cx="146.1" cy="210.4" r="6.2"/>
<circle cx="146.7" cy="295.9" r="6.2"/>
<circle cx="147.3" cy="227.6" r="6.2"/>
<circle cx="147.9" cy="260.5" r="6.2"/>
<circle cx="148.5" cy="195.1" r="6.2"/>
<circle cx="149.1" cy="308.9" r="6.2"/>
<circle cx="149.6" cy="263.0" r="6.2"/>
<circle cx="150.2" cy="292.9" r="6.2"/>
<circle cx="150.8" cy="329.9" r="6.2"/>
<circle cx="151.4" cy="299.7" r="6.2"/>
<circle cx="152.0" cy="249.7" r="6.2"/>
<circle cx="152.5" cy="197.9" r="6.2"/>
<circle cx="153.1" cy="220.4" r="6.2"/>
<circle cx="153.7" cy="241.0" r="6.2"/>
<circle cx="154.3" cy="360.0" r="6.2"/>
<circle cx="154.9" cy="278.1" r="6.2"/>
<circle cx="155.5" cy="361.4" r="6.2"/>
<circle cx="156.0" cy="342.7" r="6.2"/>
<circle cx="156.6" cy="331.1" r="6.2"/>
<circle cx="157.2" cy="308.3" r="6.2"/>
<circle cx="157.8" cy="327.1" r="6.2"/>
<circle cx="158.4" cy="371.7" r="6.2"/>
<circle cx="158.9" cy="291.4" r="6.2"/>
<circle cx="159.5" cy="332.8" r="6.2"/>
<circle cx="160.1" cy="238.6" r="6.2"/>
<circle cx="160.7" cy="249.2" r="6.2"/>
<circle cx="161.3" cy="284.6" r="6.2"/>
<circle cx="161.9" cy="264.3" r="6.2"/>
<circle cx="162.4" cy="255.6" r="6.2"/>
<circle cx="163.0" cy="327.3" r="6.2"/>
<circle cx="163.6" cy="321.8" r="6.2"/>
<circle cx="164.2" cy="219.2" r="6.2"/>
<circle cx="164.8" cy="328.3" r="6.2"/>
<circle cx="165.3" cy="301.2" r="6.2"/>
<circle cx="165.9" cy="301.7" r="6.2"/>
<circle cx="166.5" cy="324.9" r="6.2"/>
<circle cx="167.1" cy="347.4" r="6.2"/>
<circle cx="167.7" cy="339.1" r="6.2"/>
<circle cx="168.3" cy="282.7" r="6.2"/>
<circle cx="168.8" cy="294.5" r="6.2"/>
<circle cx="169.4" cy="291.9" r="6.2"/>
<circle cx="170.0" cy="290.5" r="6.2"/>
<circle cx="170.6" cy="261.5" r="6.2"/>
<circle cx="171.2" cy="324.5" r="6.2"/>
<circle cx="171.8" cy="251.1" r="6.2"/>
<circle cx="172.3" cy="357.8" r="6.2"/>
<circle cx="172.9" cy="207.9" r="6.2"/>
<circle cx="173.5" cy="323.0" r="6.2"/>
<circle cx="174.1" cy="364.6" r="6.2"/>
<circle cx="174.7" cy="187.2" r="6.2"/>
<circle cx="175.2" cy="311.1" r="6.2"/>
<circle cx="175.8" cy="345.3" r="6.2"/>
<circle cx="176.4" cy="256.1" r="6.2"/>
<circle cx="177.0" cy="352.7" r="6.2"/>
<circle cx="177.6" cy="314.1" r="6.2"/>
<circle cx="178.2" cy="368.8" r="6.2"/>
<circle cx="178.7" cy="303.7" r="6.2"/>
<circle cx="179.3" cy="296.8" r="6.2"/>
<circle cx="179.9" cy="230.8" r="6.2"/>
<circle cx="180.5" cy="266.1" r="6.2"/>
<circle cx="181.1" cy="232.7" r="6.2"/>
<circle cx="181.6" cy="355.9" r="6.2"/>
<circle cx="182.2" cy="310.0" r="6.2"/>
<circle cx="182.8" cy="281.0" r="6.2"/>
<circle cx="183.4" cy="296.2" r="6.2"/>
<circle cx="184.0" cy="266.1" r="6.2"/>
<circle cx="184.6" cy="236.3" r="6.2"/>
<circle cx="185.1" cy="321.2" r="6.2"/>
<circle cx="185.7" cy="318.6" r="6.2"/>
<circle cx="186.3" cy="342.8" r="6.2"/>
<circle cx="186.9" cy="271.2" r="6.2"/>
<circle cx="187.5" cy="343.8" r="6.2"/>
<circle cx="188.0" cy="327.8" r="6.2"/>
<circle cx="188.6" cy="331.0" r="6.2"/>
<circle cx="189.2" cy="299.2" r="6.2"/>
<circle cx="189.8" cy="282.9" r="6.2"/>
<circle cx="190.4" cy="356.2" r="6.2"/>
<circle cx="191.0" cy="271.4" r="6.2"/>
<circle cx="191.5" cy="234.1" r="6.2"/>
<circle cx="192.1" cy="362.7" r="6.2"/>
<circle cx="192.7" cy="276.8" r="6.2"/>
<circle cx="193.3" cy="236.4" r="6.2"/>
<circle cx="193.9" cy="233.5" r="6.2"/>
<circle cx="194.5" cy="309.3" r="6.2"/>
<circle cx="195.0" cy="299.1" r="6.2"/>
<circle cx="195.6" cy="251.5" r="6.2"/>
<circle cx="196.2" cy="293.6" r="6.2"/>
<circle cx="196.8" cy="258.5" r="6.2"/>
<circle cx="197.4" cy="310.6" r="6.2"/>
<circle cx="197.9" cy="233.1" r="6.2"/>
<circle cx="198.5" cy="332.5" r="6.2"/>
<circle cx="199.1" cy="237.0" r="6.2"/>
<circle cx="199.7" cy="320.7" r="6.2"/>
<circle cx="200.3" cy="236.1" r="6.2"/>
<circle cx="200.9" cy="183.9" r="6.2"/>
<circle cx="201.4" cy="343.5" r="6.2"/>
<circle cx="202.0" cy="167.0" r="6.2"/>
<circle cx="202.6" cy="308.4" r="6.2"/>
<circle cx="203.2" cy="163.3" r="6.2"/>
<circle cx="203.8" cy="280.8" r="6.2"/>
<circle cx="204.3" cy="275.0" r="6.2"/>
<circle cx="204.9" cy="344.5" r="6.2"/>
<circle cx="205.5" cy="202.2" r="6.2"/>
<circle cx="206.1" cy="300.1" r="6.2"/>
<circle cx="206.7" cy="294.4" r="6.2"/>
<circle cx="207.3" cy="267.4" r="6.2"/>
<circle cx="207.8" cy="292.2" r="6.2"/>
<circle cx="208.4" cy="298.9" r="6.2"/>
<circle cx="209.0" cy="280.0" r="6.2"/>
<circle cx="209.6" cy="309.4" r="6.2"/>
<circle cx="210.2" cy="278.2" r="6.2"/>
<circle cx="210.7" cy="272.6" r="6.2"/>
<circle cx="211.3" cy="335.0" r="6.2"/>
<circle cx="211.9" cy="240.9" r="6.2"/>
<circle cx="212.5" cy="289.6" r="6.2"/>
<circle cx="213.1" cy="318.7" r="6.2"/>
<circle cx="213.7" cy="236.6" r="6.2"/>
<circle cx="214.2" cy="264.7" r="6.2"/>
<circle cx="214.8" cy="228.4" r="6.2"/>
<circle cx="215.4" cy="218.9" r="6.2"/>
<circle cx="216.0" cy="343.2" r="6.2"/>
<circle cx="216.6" cy="288.9" r="6.2"/>
<circle cx="217.2" cy="270.5" r="6.2"/>
<circle cx="217.7" cy="317.9" r="6.2"/>
<circle cx="218.3" cy="261.2" r="6.2"/>
<circle cx="218.9" cy="247.2" r="6.2"/>
<circle cx="219.5" cy="287.9" r="6.2"/>
<circle cx="220.1" cy="386.5" r="6.2"/>
<circle cx="220.6" cy="192.6" r="6.2"/>
<circle cx="221.2" cy="292.5" r="6.2"/>
<circle cx="221.8" cy="327.2" r="6.2"/>
<circle cx="222.4" cy="300.1" r="6.2"/>
<circle cx="223.0" cy="277.2" r="6.2"/>
<circle cx="223.6" cy="292.0" r="6.2"/>
<circle cx="224.1" cy="285.4" r="6.2"/>
<circle cx="224.7" cy="249.5" r="6.2"/>
<circle cx="225.3" cy="219.0" r="6.2"/>
<circle cx="225.9" cy="310.7" r="6.2"/>
<circle cx="226.5" cy="332.7" r="6.2"/>
<circle cx="227.0" cy="279.8" r="6.2"/>
<circle cx="227.6" cy="244.9" r="6.2"/>
<circle cx="228.2" cy="198.4" r="6.2"/>
<circle cx="228.8" cy="341.1" r="6.2"/>
<circle cx="229.4" cy="369.8" r="6.2"/>
<circle cx="230.0" cy="321.0" r="6.2"/>
<circle cx="230.5" cy="372.7" r="6.2"/>
<circle cx="231.1" cy="347.8" r="6.2"/>
<circle cx="231.7" cy="192.2" r="6.2"/>
<circle cx="232.3" cy="328.7" r="6.2"/>
<circle cx="232.9" cy="320.6" r="6.2"/>
<circle cx="233.5" cy="229.4" r="6.2"/>
<circle cx="234.0" cy="344.1" r="6.2"/>
<circle cx="234.6" cy="345.3" r="6.2"/>
<circle cx="235.2" cy="261.9" r="6.2"/>
<circle cx="235.8" cy="349.0" r="6.2"/>
<circle cx="236.4" cy="292.9" r="6.2"/>
<circle cx="236.9" cy="274.3" r="6.2"/>
<circle cx="237.5" cy="358.3" r="6.2"/>
<circle cx="238.1" cy="334.5" r="6.2"/>
<circle cx="238.7" cy="311.0" r="6.2"/>
<circle cx="239.3" cy="266.1" r="6.2"/>
<circle cx="239.9" cy="324.9" r="6.2"/>
<circle cx="240.4" cy="364.8" r="6.2"/>
<circle cx="241.0" cy="240.3" r="6.2"/>
<circle cx="241.6" cy="283.6" r="6.2"/>
<circle cx="242.2" cy="312.0" r="6.2"/>
<circle cx="242.8" cy="343.8" r="6.2"/>
<circle cx="243.3" cy="346.1" r="6.2"/>
<circle cx="243.9" cy="281.5" r="6.2"/>
<circle cx="244.5" cy="393.2" r="6.2"/>
<circle cx="245.1" cy="358.1" r="6.2"/>
<circle cx="245.7" cy="357.3" r="6.2"/>
<circle cx="246.3" cy="338.0" r="6.2"/>
<circle cx="246.8" cy="329.2" r="6.2"/>
<circle cx="247.4" cy="242.2" r="6.2"/>
<circle cx="248.0" cy="258.7" r="6.2"/>
<circle cx="248.6" cy="389.3" r="6.2"/>
<circle cx="249.2" cy="345.9" r="6.2"/>
<circle cx="249.7" cy="329.0" r="6.2"/>
<circle cx="250.3" cy="235.1" r="6.2"/>
<circle cx="250.9" cy="329.8" r="6.2"/>
<circle cx="251.5" cy="353.9" r="6.2"/>
<circle cx="252.1" cy="370.9" r="6.2"/>
<circle cx="252.7" cy="332.5" r="6.2"/>
<circle cx="253.2" cy="301.0" r="6.2"/>
<circle cx="253.8" cy="352.1" r="6.2"/>
<circle cx="254.4" cy="282.3" r="6.2"/>
<circle cx="255.0" cy="306.7" r="6.2"/>
<circle cx="255.6" cy="267.0" r="6.2"/>
<circle cx="256.2" cy="231.3" r="6.2"/>
<circle cx="256.7" cy="342.5" r="6.2"/>
<circle cx="257.3" cy="322.2" r="6.2"/>
<circle cx="257.9" cy="353.6" r="6.2"/>
<circle cx="258.5" cy="262.8" r="6.2"/>
<circle cx="259.1" cy="302.9" r="6.2"/>
<circle cx="259.6" cy="284.9" r="6.2"/>
<circle cx="260.2" cy="316.3" r="6.2"/>
<circle cx="260.8" cy="361.8" r="6.2"/>
<circle cx="261.4" cy="306.8" r="6.2"/>
<circle cx="262.0" cy="279.7" r="6.2"/>
<circle cx="262.6" cy="301.2" r="6.2"/>
<circle cx="263.1" cy="346.7" r="6.2"/>
<circle cx="263.7" cy="379.4" r="6.2"/>
<circle cx="264.3" cy="254.2" r="6.2"/>
<circle cx="264.9" cy="244.6" r="6.2"/>
<circle cx="265.5" cy="230.0" r="6.2"/>
<circle cx="266.0" cy="249.3" r="6.2"/>
<circle cx="266.6" cy="235.8" r="6.2"/>
<circle cx="267.2" cy="217.0" r="6.2"/>
<circle cx="267.8" cy="326.1" r="6.2"/>
<circle cx="268.4" cy="255.4" r="6.2"/>
<circle cx="269.0" cy="385.3" r="6.2"/>
<circle cx="269.5" cy="269.7" r="6.2"/>
<circle cx="270.1" cy="357.9" r="6.2"/>
<circle cx="270.7" cy="288.8" r="6.2"/>
<circle cx="271.3" cy="269.9" r="6.2"/>
<circle cx="271.9" cy="276.2" r="6.2"/>
<circle cx="272.4" cy="308.0" r="6.2"/>
<circle cx="273.0" cy="241.0" r="6.2"/>
<circle cx="273.6" cy="226.0" r="6.2"/>
<circle cx="274.2" cy="321.5" r="6.2"/>
<circle cx="274.8" cy="258.5" r="6.2"/>
<circle cx="275.4" cy="386.5" r="6.2"/>
<circle cx="275.9" cy="332.9" r="6.2"/>
<circle cx="276.5" cy="334.3" r="6.2"/>
<circle cx="277.1" cy="404.3" r="6.2"/>
<circle cx="277.7" cy="224.0" r="6.2"/>
<circle cx="278.3" cy="259.3" r="6.2"/>
<circle cx="278.9" cy="213.8" r="6.2"/>
<circle cx="279.4" cy="342.8" r="6.2"/>
<circle cx="280.0" cy="198.4" r="6.2"/>
<circle cx="280.6" cy="219.8" r="6.2"/>
<circle cx="281.2" cy="252.4" r="6.2"/>
<circle cx="281.8" cy="303.0" r="6.2"/>
<circle cx="282.3" cy="303.9" r="6.2"/>
<circle cx="282.9" cy="326.3" r="6.2"/>
<circle cx="283.5" cy="260.6" r="6.2"/>
<circle cx="284.1" cy="300.2" r="6.2"/>
<circle cx="284.7" cy="313.7" r="6.2"/>
<circle cx="285.3" cy="224.3" r="6.2"/>
<circle cx="285.8" cy="375.2" r="6.2"/>
<circle cx="286.4" cy="214.2" r="6.2"/>
<circle cx="287.0" cy="316.7" r="6.2"/>
<circle cx="287.6" cy="198.7" r="6.2"/>
<circle cx="288.2" cy="353.2" r="6.2"/>
<circle cx="288.7" cy="352.4" r="6.2"/>
<circle cx="289.3" cy="334.7" r="6.2"/>
<circle cx="289.9" cy="232.3" r="6.2"/>
<circle cx="290.5" cy="222.0" r="6.2"/>
<circle cx="291.1" cy="331.3" r="6.2"/>
<circle cx="291.7" cy="362.5" r="6.2"/>
<circle cx="292.2" cy="318.3" r="6.2"/>
<circle cx="292.8" cy="237.2" r="6.2"/>
<circle cx="293.4" cy="311.2" r="6.2"/>
<circle cx="294.0" cy="337.5" r="6.2"/>
<circle cx="294.6" cy="382.8" r="6.2"/>
<circle cx="295.1" cy="358.3" r="6.2"/>
<circle cx="295.7" cy="335.6" r="6.2"/>
<circle cx="296.3" cy="285.2" r="6.2"/>
<circle cx="296.9" cy="305.6" r="6.2"/>
<circle cx="297.5" cy="364.4" r="6.2"/>
<circle cx="298.1" cy="355.7" r="6.2"/>
<circle cx="298.6" cy="246.3" r="6.2"/>
<circle cx="299.2" cy="246.7" r="6.2"/>
<circle cx="299.8" cy="324.6" r="6.2"/>
<circle cx="300.4" cy="381.8" r="6.2"/>
<circle cx="301.0" cy="385.3" r="6.2"/>
<circle cx="301.6" cy="258.8" r="6.2"/>
<circle cx="302.1" cy="370.5" r="6.2"/>
<circle cx="302.7" cy="279.6" r="6.2"/>
<circle cx="303.3" cy="260.5" r="6.2"/>
<circle cx="303.9" cy="248.5" r="6.2"/>
<circle cx="304.5" cy="342.2" r="6.2"/>
<circle cx="305.0" cy="240.2" r="6.2"/>
<circle cx="305.6" cy="281.6" r="6.2"/>
<circle cx="306.2" cy="338.8" r="6.2"/>
<circle cx="306.8" cy="246.4" r="6.2"/>
<circle cx="307.4" cy="162.8" r="6.2"/>
<circle cx="308.0" cy="348.5" r="6.2"/>
<circle cx="308.5" cy="231.4" r="6.2"/>
<circle cx="309.1" cy="270.6" r="6.2"/>
<circle cx="309.7" cy="357.5" r="6.2"/>
<circle cx="310.3" cy="279.8" r="6.2"/>
<circle cx="310.9" cy="241.0" r="6.2"/>
<circle cx="311.4" cy="287.7" r="6.2"/>
<circle cx="312.0" cy="243.0" r="6.2"/>
<circle cx="312.6" cy="291.7" r="6.2"/>
<circle cx="313.2" cy="328.8" r="6.2"/>
<circle cx="313.8" cy="253.1" r="6.2"/>
<circle cx="314.4" cy="324.3" r="6.2"/>
<circle cx="314.9" cy="340.6" r="6.2"/>
<circle cx="315.5" cy="289.6" r="6.2"/>
<circle cx="316.1" cy="233.6" r="6.2"/>
<circle cx="316.7" cy="348.3" r="6.2"/>
<circle cx="317.3" cy="263.9" r="6.2"/>
<circle cx="317.8" cy="299.4" r="6.2"/>
<circle cx="318.4" cy="214.9" r="6.2"/>
<circle cx="319.0" cy="376.2" r="6.2"/>
<circle cx="319.6" cy="319.2" r="6.2"/>
<circle cx="320.2" cy="317.2" r="6.2"/>
<circle cx="320.8" cy="300.5" r="6.2"/>
<circle cx="321.3" cy="330.6" r="6.2"/>
<circle cx="321.9" cy="164.5" r="6.2"/>
<circle cx="322.5" cy="291.6" r="6.2"/>
<circle cx="323.1" cy="380.7" r="6.2"/>
<circle cx="323.7" cy="246.1" r="6.2"/>
<circle cx="324.3" cy="407.7" r="6.2"/>
<circle cx="324.8" cy="320.0" r="6.2"/>
<circle cx="325.4" cy="295.0" r="6.2"/>
<circle cx="326.0" cy="359.1" r="6.2"/>
<circle cx="326.6" cy="285.2" r="6.2"/>
<circle cx="327.2" cy="363.1" r="6.2"/>
<circle cx="327.7" cy="233.5" r="6.2"/>
<circle cx="328.3" cy="327.4" r="6.2"/>
<circle cx="328.9" cy="329.4" r="6.2"/>
<circle cx="329.5" cy="335.1" r="6.2"/>
<circle cx="330.1" cy="146.7" r="6.2"/>
<circle cx="330.7" cy="145.5" r="6.2"/>
<circle cx="331.2" cy="334.8" r="6.2"/>
<circle cx="331.8" cy="218.2" r="6.2"/>
<circle cx="332.4" cy="337.1" r="6.2"/>
<circle cx="333.0" cy="336.4" r="6.2"/>
<circle cx="333.6" cy="241.3" r="6.2"/>
<circle cx="334.1" cy="317.3" r="6.2"/>
<circle cx="334.7" cy="298.6" r="6.2"/>
<circle cx="335.3" cy="216.4" r="6.2"/>
<circle cx="335.9" cy="229.1" r="6.2"/>
<circle cx="336.5" cy="355.9" r="6.2"/>
<circle cx="337.1" cy="311.2" r="6.2"/>
<circle cx="337.6" cy="280.8" r="6.2"/>
<circle cx="338.2" cy="219.4" r="6.2"/>
<circle cx="338.8" cy="239.0" r="6.2"/>
<circle cx="339.4" cy="302.9" r="6.2"/>
<circle cx="340.0" cy="284.8" r="6.2"/>
<circle cx="340.5" cy="311.3" r="6.2"/>
<circle cx="341.1" cy="392.8" r="6.2"/>
<circle cx="341.7" cy="368.9" r="6.2"/>
<circle cx="342.3" cy="331.5" r="6.2"/>
<circle cx="342.9" cy="349.7" r="6.2"/>
<circle cx="343.5" cy="303.3" r="6.2"/>
<circle cx="344.0" cy="358.0" r="6.2"/>
<circle cx="344.6" cy="274.0" r="6.2"/>
<circle cx="345.2" cy="237.4" r="6.2"/>
<circle cx="345.8" cy="310.5" r="6.2"/>
<circle cx="346.4" cy="344.5" r="6.2"/>
<circle cx="347.0" cy="336.4" r="6.2"/>
<circle cx="347.5" cy="278.2" r="6.2"/>
<circle cx="348.1" cy="386.5" r="6.2"/>
<circle cx="348.7" cy="368.8" r="6.2"/>
<circle cx="349.3" cy="326.6" r="6.2"/>
<circle cx="349.9" cy="253.7" r="6.2"/>
<circle cx="350.4" cy="216.4" r="6.2"/>
<circle cx="351.0" cy="289.7" r="6.2"/>
<circle cx="351.6" cy="235.6" r="6.2"/>
<circle cx="352.2" cy="357.0" r="6.2"/>
<circle cx="352.8" cy="326.5" r="6.2"/>
<circle cx="353.4" cy="306.0" r="6.2"/>
<circle cx="353.9" cy="236.8" r="6.2"/>
<circle cx="354.5" cy="233.0" r="6.2"/>
<circle cx="355.1" cy="268.7" r="6.2"/>
<circle cx="355.7" cy="295.7" r="6.2"/>
<circle cx="356.3" cy="349.5" r="6.2"/>
<circle cx="356.8" cy="273.3" r="6.2"/>
<circle cx="357.4" cy="343.7" r="6.2"/>
<circle cx="358.0" cy="352.6" r="6.2"/>
<circle cx="358.6" cy="269.1" r="6.2"/>
<circle cx="359.2" cy="312.1" r="6.2"/>
<circle cx="359.8" cy="319.3" r="6.2"/>
<circle cx="360.3" cy="277.9" r="6.2"/>
<circle cx="360.9" cy="277.0" r="6.2"/>
<circle cx="361.5" cy="206.8" r="6.2"/>
<circle cx="362.1" cy="236.7" r="6.2"/>
<circle cx="362.7" cy="314.3" r="6.2"/>
<circle cx="363.2" cy="356.5" r="6.2"/>
<circle cx="363.8" cy="284.1" r="6.2"/>
<circle cx="364.4" cy="256.3" r="6.2"/>
<circle cx="365.0" cy="245.0" r="6.2"/>
<circle cx="365.6" cy="221.5" r="6.2"/>
<circle cx="366.2" cy="316.2" r="6.2"/>
<circle cx="366.7" cy="211.4" r="6.2"/>
<circle cx="367.3" cy="283.9" r="6.2"/>
<circle cx="367.9" cy="315.4" r="6.2"/>
<circle cx="368.5" cy="245.6" r="6.2"/>
<circle cx="369.1" cy="316.1" r="6.2"/>
<circle cx="369.7" cy="346.3" r="6.2"/>
<circle cx="370.2" cy="343.3" r="6.2"/>
<circle cx="370.8" cy="179.8" r="6.2"/>
<circle cx="371.4" cy="296.0" r="6.2"/>
<circle cx="372.0" cy="163.3" r="6.2"/>
<circle cx="372.6" cy="311.9" r="6.2"/>
<circle cx="373.1" cy="342.7" r="6.2"/>
<circle cx="373.7" cy="320.7" r="6.2"/>
<circle cx="374.3" cy="307.6" r="6.2"/>
<circle cx="374.9" cy="358.5" r="6.2"/>
<circle cx="375.5" cy="353.9" r="6.2"/>
<circle cx="376.1" cy="319.7" r="6.2"/>
<circle cx="376.6" cy="322.3" r="6.2"/>
<circle cx="377.2" cy="340.3" r="6.2"/>
<circle cx="377.8" cy="259.2" r="6.2"/>
<circle cx="378.4" cy="313.5" r="6.2"/>
<circle cx="379.0" cy="255.1" r="6.2"/>
<circle cx="379.5" cy="275.9" r="6.2"/>
<circle cx="380.1" cy="259.7" r="6.2"/>
<circle cx="380.7" cy="313.6" r="6.2"/>
<circle cx="381.3" cy="236.1" r="6.2"/>
<circle cx="381.9" cy="202.4" r="6.2"/>
<circle cx="382.5" cy="272.8" r="6.2"/>
<circle cx="383.0" cy="289.5" r="6.2"/>
<circle cx="383.6" cy="337.0" r="6.2"/>
<circle cx="384.2" cy="348.5" r="6.2"/>
<circle cx="384.8" cy="325.1" r="6.2"/>
<circle cx="385.4" cy="256.9" r="6.2"/>
<circle cx="386.0" cy="354.6" r="6.2"/>
<circle cx="386.5" cy="192.2" r="6.2"/>
<circle cx="387.1" cy="264.5" r="6.2"/>
<circle cx="387.7" cy="264.0" r="6.2"/>
<circle cx="388.3" cy="231.3" r="6.2"/>
<circle cx="388.9" cy="252.2" r="6.2"/>
<circle cx="389.4" cy="257.2" r="6.2"/>
<circle cx="390.0" cy="355.4" r="6.2"/>
<circle cx="390.6" cy="276.8" r="6.2"/>
<circle cx="391.2" cy="275.6" r="6.2"/>
<circle cx="391.8" cy="386.5" r="6.2"/>
<circle cx="392.4" cy="253.9" r="6.2"/>
<circle cx="392.9" cy="358.6" r="6.2"/>
<circle cx="393.5" cy="237.4" r="6.2"/>
<circle cx="394.1" cy="327.6" r="6.2"/>
<circle cx="394.7" cy="287.7" r="6.2"/>
<circle cx="395.3" cy="317.5" r="6.2"/>
<circle cx="395.8" cy="242.8" r="6.2"/>
<circle cx="396.4" cy="300.8" r="6.2"/>
<circle cx="397.0" cy="349.9" r="6.2"/>
<circle cx="397.6" cy="316.4" r="6.2"/>
<circle cx="398.2" cy="175.7" r="6.2"/>
<circle cx="398.8" cy="302.1" r="6.2"/>
<circle cx="399.3" cy="341.7" r="6.2"/>
<circle cx="399.9" cy="276.7" r="6.2"/>
<circle cx="400.5" cy="239.9" r="6.2"/>
<circle cx="401.1" cy="253.5" r="6.2"/>
<circle cx="401.7" cy="389.1" r="6.2"/>
<circle cx="402.2" cy="289.7" r="6.2"/>
<circle cx="402.8" cy="320.0" r="6.2"/>
<circle cx="403.4" cy="268.6" r="6.2"/>
<circle cx="404.0" cy="198.0" r="6.2"/>
<circle cx="404.6" cy="194.7" r="6.2"/>
<circle cx="405.2" cy="399.8" r="6.2"/>
<circle cx="405.7" cy="251.0" r="6.2"/>
<circle cx="406.3" cy="274.3" r="6.2"/>
<circle cx="406.9" cy="259.1" r="6.2"/>
<circle cx="407.5" cy="240.4" r="6.2"/>
<circle cx="408.1" cy="368.5" r="6.2"/>
<circle cx="408.7" cy="357.2" r="6.2"/>
<circle cx="409.2" cy="298.2" r="6.2"/>
<circle cx="409.8" cy="267.9" r="6.2"/>
<circle cx="410.4" cy="288.4" r="6.2"/>
<circle cx="411.0" cy="222.4" r="6.2"/>
<circle cx="411.6" cy="336.6" r="6.2"/>
<circle cx="412.1" cy="182.0" r="6.2"/>
<circle cx="412.7" cy="239.5" r="6.2"/>
<circle cx="413.3" cy="366.2" r="6.2"/>
<circle cx="413.9" cy="323.3" r="6.2"/>
<circle cx="414.5" cy="324.3" r="6.2"/>
<circle cx="415.1" cy="302.2" r="6.2"/>
<circle cx="415.6" cy="318.3" r="6.2"/>
<circle cx="416.2" cy="312.4" r="6.2"/>
<circle cx="416.8" cy="215.3" r="6.2"/>
<circle cx="417.4" cy="240.9" r="6.2"/>
<circle cx="418.0" cy="189.7" r="6.2"/>
<circle cx="418.5" cy="222.9" r="6.2"/>
<circle cx="419.1" cy="278.3" r="6.2"/>
<circle cx="419.7" cy="195.5" r="6.2"/>
<circle cx="420.3" cy="310.8" r="6.2"/>
<circle cx="420.9" cy="293.4" r="6.2"/>
<circle cx="421.5" cy="287.8" r="6.2"/>
<circle cx="422.0" cy="333.5" r="6.2"/>
<circle cx="422.6" cy="159.1" r="6.2"/>
<circle cx="423.2" cy="210.4" r="6.2"/>
<circle cx="423.8" cy="334.3" r="6.2"/>
<circle cx="424.4" cy="186.5" r="6.2"/>
<circle cx="424.9" cy="355.1" r="6.2"/>
<circle cx="425.5" cy="180.5" r="6.2"/>
<circle cx="426.1" cy="257.6" r="6.2"/>
<circle cx="426.7" cy="227.8" r="6.2"/>
<circle cx="427.3" cy="354.4" r="6.2"/>
<circle cx="427.9" cy="289.6" r="6.2"/>
<circle cx="428.4" cy="383.5" r="6.2"/>
<circle cx="429.0" cy="229.7" r="6.2"/>
<circle cx="429.6" cy="241.9" r="6.2"/>
<circle cx="430.2" cy="273.5" r="6.2"/>
<circle cx="430.8" cy="337.8" r="6.2"/>
<circle cx="431.4" cy="163.3" r="6.2"/>
<circle cx="431.9" cy="163.3" r="6.2"/>
<circle cx="432.5" cy="216.6" r="6.2"/>
<circle cx="433.1" cy="309.5" r="6.2"/>
<circle cx="433.7" cy="366.6" r="6.2"/>
<circle cx="434.3" cy="231.4" r="6.2"/>
<circle cx="434.8" cy="345.5" r="6.2"/>
<circle cx="435.4" cy="362.6" r="6.2"/>
<circle cx="436.0" cy="349.4" r="6.2"/>
<circle cx="436.6" cy="344.8" r="6.2"/>
<circle cx="437.2" cy="157.9" r="6.2"/>
<circle cx="437.8" cy="283.4" r="6.2"/>
<circle cx="438.3" cy="340.0" r="6.2"/>
<circle cx="438.9" cy="333.9" r="6.2"/>
<circle cx="439.5" cy="340.9" r="6.2"/>
<circle cx="440.1" cy="302.6" r="6.2"/>
<circle cx="440.7" cy="287.1" r="6.2"/>
<circle cx="441.2" cy="331.9" r="6.2"/>
<circle cx="441.8" cy="245.8" r="6.2"/>
<circle cx="442.4" cy="278.5" r="6.2"/>
<circle cx="443.0" cy="275.6" r="6.2"/>
<circle cx="443.6" cy="309.1" r="6.2"/>
<circle cx="444.2" cy="264.0" r="6.2"/>
<circle cx="444.7" cy="302.5" r="6.2"/>
<circle cx="445.3" cy="295.2" r="6.2"/>
<circle cx="445.9" cy="251.5" r="6.2"/>
<circle cx="446.5" cy="273.5" r="6.2"/>
<circle cx="447.1" cy="398.1" r="6.2"/>
<circle cx="447.6" cy="318.9" r="6.2"/>
<circle cx="448.2" cy="316.4" r="6.2"/>
<circle cx="448.8" cy="358.1" r="6.2"/>
<circle cx="449.4" cy="164.9" r="6.2"/>
<circle cx="450.0" cy="276.1" r="6.2"/>
<circle cx="450.6" cy="274.4" r="6.2"/>
<circle cx="451.1" cy="265.7" r="6.2"/>
<circle cx="451.7" cy="312.8" r="6.2"/>
<circle cx="452.3" cy="239.3" r="6.2"/>
<circle cx="452.9" cy="304.7" r="6.2"/>
<circle cx="453.5" cy="363.2" r="6.2"/>
<circle cx="454.1" cy="290.3" r="6.2"/>
<circle cx="454.6" cy="232.8" r="6.2"/>
<circle cx="455.2" cy="282.1" r="6.2"/>
<circle cx="455.8" cy="356.6" r="6.2"/>
<circle cx="456.4" cy="369.3" r="6.2"/>
<circle cx="457.0" cy="288.1" r="6.2"/>
<circle cx="457.5" cy="304.5" r="6.2"/>
<circle cx="458.1" cy="169.5" r="6.2"/>
<circle cx="458.7" cy="135.1" r="6.2"/>
<circle cx="459.3" cy="247.3" r="6.2"/>
<circle cx="459.9" cy="364.7" r="6.2"/>
<circle cx="460.5" cy="281.5" r="6.2"/>
<circle cx="461.0" cy="282.0" r="6.2"/>
<circle cx="461.6" cy="346.1" r="6.2"/>
<circle cx="462.2" cy="307.2" r="6.2"/>
<circle cx="462.8" cy="278.8" r="6.2"/>
<circle cx="463.4" cy="379.7" r="6.2"/>
<circle cx="463.9" cy="332.6" r="6.2"/>
<circle cx="464.5" cy="305.3" r="6.2"/>
<circle cx="465.1" cy="382.4" r="6.2"/>
<circle cx="465.7" cy="219.2" r="6.2"/>
<circle cx="466.3" cy="367.5" r="6.2"/>
<circle cx="466.9" cy="276.1" r="6.2"/>
<circle cx="467.4" cy="269.5" r="6.2"/>
<circle cx="468.0" cy="266.2" r="6.2"/>
<circle cx="468.6" cy="326.2" r="6.2"/>
<circle cx="469.2" cy="312.2" r="6.2"/>
<circle cx="469.8" cy="387.8" r="6.2"/>
<circle cx="470.3" cy="360.9" r="6.2"/>
<circle cx="470.9" cy="354.9" r="6.2"/>
<circle cx="471.5" cy="315.0" r="6.2"/>
<circle cx="472.1" cy="372.4" r="6.2"/>
<circle cx="472.7" cy="305.5" r="6.2"/>
<circle cx="473.3" cy="219.8" r="6.2"/>
<circle cx="473.8" cy="370.3" r="6.2"/>
<circle cx="474.4" cy="336.0" r="6.2"/>
<circle cx="475.0" cy="298.3" r="6.2"/>
<circle cx="475.6" cy="355.6" r="6.2"/>
<circle cx="476.2" cy="268.4" r="6.2"/>
<circle cx="476.8" cy="344.5" r="6.2"/>
<circle cx="477.3" cy="359.8" r="6.2"/>
<circle cx="477.9" cy="372.9" r="6.2"/>
<circle cx="478.5" cy="356.7" r="6.2"/>
<circle cx="479.1" cy="370.2" r="6.2"/>
<circle cx="479.7" cy="345.2" r="6.2"/>
<circle cx="480.2" cy="296.1" r="6.2"/>
<circle cx="480.8" cy="283.5" r="6.2"/>
<circle cx="481.4" cy="207.8" r="6.2"/>
<circle cx="482.0" cy="222.5" r="6.2"/>
<circle cx="482.6" cy="235.0" r="6.2"/>
<circle cx="483.2" cy="379.3" r="6.2"/>
<circle cx="483.7" cy="318.5" r="6.2"/>
<circle cx="484.3" cy="314.1" r="6.2"/>
<circle cx="484.9" cy="259.9" r="6.2"/>
<circle cx="485.5" cy="266.3" r="6.2"/>
<circle cx="486.1" cy="319.8" r="6.2"/>
<circle cx="486.6" cy="308.8" r="6.2"/>
<circle cx="487.2" cy="361.4" r="6.2"/>
<circle cx="487.8" cy="338.7" r="6.2"/>
<circle cx="488.4" cy="334.3" r="6.2"/>
<circle cx="489.0" cy="326.7" r="6.2"/>
<circle cx="489.6" cy="371.5" r="6.2"/>
<circle cx="490.1" cy="344.8" r="6.2"/>
<circle cx="490.7" cy="274.2" r="6.2"/>
<circle cx="491.3" cy="346.0" r="6.2"/>
<circle cx="491.9" cy="265.4" r="6.2"/>
<circle cx="492.5" cy="302.0" r="6.2"/>
<circle cx="493.0" cy="303.6" r="6.2"/>
<circle cx="493.6" cy="312.5" r="6.2"/>
<circle cx="494.2" cy="370.6" r="6.2"/>
<circle cx="494.8" cy="177.3" r="6.2"/>
<circle cx="495.4" cy="411.4" r="6.2"/>
<circle cx="496.0" cy="269.7" r="6.2"/>
<circle cx="496.5" cy="313.8" r="6.2"/>
<circle cx="497.1" cy="148.0" r="6.2"/>
<circle cx="497.7" cy="377.3" r="6.2"/>
<circle cx="498.3" cy="281.4" r="6.2"/>
<circle cx="498.9" cy="368.1" r="6.2"/>
<circle cx="499.5" cy="349.7" r="6.2"/>
<circle cx="500.0" cy="261.3" r="6.2"/>
<circle cx="500.6" cy="367.6" r="6.2"/>
<circle cx="501.2" cy="342.5" r="6.2"/>
<circle cx="501.8" cy="291.4" r="6.2"/>
<circle cx="502.4" cy="288.0" r="6.2"/>
<circle cx="502.9" cy="307.6" r="6.2"/>
<circle cx="503.5" cy="187.2" r="6.2"/>
<circle cx="504.1" cy="327.1" r="6.2"/>
<circle cx="504.7" cy="257.7" r="6.2"/>
<circle cx="505.3" cy="316.5" r="6.2"/>
<circle cx="505.9" cy="212.4" r="6.2"/>
<circle cx="506.4" cy="252.0" r="6.2"/>
<circle cx="507.0" cy="388.2" r="6.2"/>
<circle cx="507.6" cy="236.3" r="6.2"/>
<circle cx="508.2" cy="243.0" r="6.2"/>
<circle cx="508.8" cy="353.0" r="6.2"/>
<circle cx="509.3" cy="343.9" r="6.2"/>
<circle cx="509.9" cy="281.0" r="6.2"/>
<circle cx="510.5" cy="310.2" r="6.2"/>
<circle cx="511.1" cy="373.7" r="6.2"/>
<circle cx="511.7" cy="343.3" r="6.2"/>
<circle cx="512.3" cy="267.8" r="6.2"/>
<circle cx="512.8" cy="331.1" r="6.2"/>
<circle cx="513.4" cy="313.4" r="6.2"/>
<circle cx="514.0" cy="329.0" r="6.2"/>
<circle cx="514.6" cy="305.2" r="6.2"/>
<circle cx="515.2" cy="314.2" r="6.2"/>
<circle cx="515.7" cy="304.2" r="6.2"/>
<circle cx="516.3" cy="368.5" r="6.2"/>
<circle cx="516.9" cy="269.4" r="6.2"/>
<circle cx="517.5" cy="358.4" r="6.2"/>
<circle cx="518.1" cy="258.6" r="6.2"/>
<circle cx="518.7" cy="261.8" r="6.2"/>
<circle cx="519.2" cy="304.9" r="6.2"/>
<circle cx="519.8" cy="298.6" r="6.2"/>
<circle cx="520.4" cy="238.9" r="6.2"/>
<circle cx="521.0" cy="345.9" r="6.2"/>
<circle cx="521.6" cy="287.3" r="6.2"/>
<circle cx="522.2" cy="342.6" r="6.2"/>
<circle cx="522.7" cy="248.1" r="6.2"/>
<circle cx="523.3" cy="279.9" r="6.2"/>
<circle cx="523.9" cy="315.0" r="6.2"/>
<circle cx="524.5" cy="193.2" r="6.2"/>
<circle cx="525.1" cy="176.9" r="6.2"/>
<circle cx="525.6" cy="334.6" r="6.2"/>
<circle cx="526.2" cy="317.3" r="6.2"/>
<circle cx="526.8" cy="272.5" r="6.2"/>
<circle cx="527.4" cy="247.6" r="6.2"/>
<circle cx="528.0" cy="237.5" r="6.2"/>
<circle cx="528.6" cy="259.3" r="6.2"/>
<circle cx="529.1" cy="301.0" r="6.2"/>
<circle cx="529.7" cy="288.8" r="6.2"/>
<circle cx="530.3" cy="298.8" r="6.2"/>
<circle cx="530.9" cy="391.9" r="6.2"/>
<circle cx="531.5" cy="318.4" r="6.2"/>
<circle cx="532.0" cy="308.2" r="6.2"/>
<circle cx="532.6" cy="222.3" r="6.2"/>
<circle cx="533.2" cy="315.0" r="6.2"/>
<circle cx="533.8" cy="299.6" r="6.2"/>
<circle cx="534.4" cy="341.9" r="6.2"/>
<circle cx="535.0" cy="321.6" r="6.2"/>
<circle cx="535.5" cy="297.4" r="6.2"/>
<circle cx="536.1" cy="247.0" r="6.2"/>
<circle cx="536.7" cy="340.2" r="6.2"/>
<circle cx="537.3" cy="364.6" r="6.2"/>
<circle cx="537.9" cy="219.7" r="6.2"/>
<circle cx="538.5" cy="300.8" r="6.2"/>
<circle cx="539.0" cy="369.7" r="6.2"/>
<circle cx="539.6" cy="258.2" r="6.2"/>
<circle cx="540.2" cy="371.2" r="6.2"/>
<circle cx="540.8" cy="220.3" r="6.2"/>
<circle cx="541.4" cy="363.7" r="6.2"/>
<circle cx="541.9" cy="244.5" r="6.2"/>
<circle cx="542.5" cy="318.5" r="6.2"/>
<circle cx="543.1" cy="376.7" r="6.2"/>
<circle cx="543.7" cy="265.7" r="6.2"/>
<circle cx="544.3" cy="263.6" r="6.2"/>
<circle cx="544.9" cy="371.8" r="6.2"/>
<circle cx="545.4" cy="260.1" r="6.2"/>
<circle cx="546.0" cy="239.4" r="6.2"/>
<circle cx="546.6" cy="335.9" r="6.2"/>
<circle cx="547.2" cy="344.5" r="6.2"/>
<circle cx="547.8" cy="321.4" r="6.2"/>
<circle cx="548.3" cy="276.2" r="6.2"/>
<circle cx="548.9" cy="219.0" r="6.2"/>
<circle cx="549.5" cy="287.8" r="6.2"/>
<circle cx="550.1" cy="370.8" r="6.2"/>
<circle cx="550.7" cy="243.6" r="6.2"/>
<circle cx="551.3" cy="341.2" r="6.2"/>
<circle cx="551.8" cy="390.3" r="6.2"/>
<circle cx="552.4" cy="314.2" r="6.2"/>
<circle cx="553.0" cy="311.4" r="6.2"/>
<circle cx="553.6" cy="276.2" r="6.2"/>
<circle cx="554.2" cy="376.8" r="6.2"/>
<circle cx="554.7" cy="247.3" r="6.2"/>
<circle cx="555.3" cy="316.9" r="6.2"/>
<circle cx="555.9" cy="252.2" r="6.2"/>
<circle cx="556.5" cy="320.5" r="6.2"/>
<circle cx="557.1" cy="363.6" r="6.2"/>
<circle cx="557.7" cy="155.0" r="6.2"/>
<circle cx="558.2" cy="261.7" r="6.2"/>
<circle cx="558.8" cy="150.9" r="6.2"/>
<circle cx="559.4" cy="181.4" r="6.2"/>
<circle cx="560.0" cy="363.3" r="6.2"/>
<circle cx="560.6" cy="274.2" r="6.2"/>
<circle cx="561.2" cy="347.1" r="6.2"/>
<circle cx="561.7" cy="205.2" r="6.2"/>
<circle cx="562.3" cy="314.2" r="6.2"/>
<circle cx="562.9" cy="232.8" r="6.2"/>
<circle cx="563.5" cy="240.2" r="6.2"/>
<circle cx="564.1" cy="316.8" r="6.2"/>
<circle cx="564.6" cy="361.9" r="6.2"/>
<circle cx="565.2" cy="348.7" r="6.2"/>
<circle cx="565.8" cy="370.1" r="6.2"/>
<circle cx="566.4" cy="308.6" r="6.2"/>
<circle cx="567.0" cy="297.8" r="6.2"/>
<circle cx="567.6" cy="248.3" r="6.2"/>
<circle cx="568.1" cy="224.8" r="6.2"/>
<circle cx="568.7" cy="409.3" r="6.2"/>
<circle cx="569.3" cy="303.4" r="6.2"/>
<circle cx="569.9" cy="239.0" r="6.2"/>
<circle cx="570.5" cy="284.9" r="6.2"/>
<circle cx="571.0" cy="362.2" r="6.2"/>
<circle cx="571.6" cy="388.2" r="6.2"/>
<circle cx="572.2" cy="374.2" r="6.2"/>
<circle cx="572.8" cy="305.6" r="6.2"/>
<circle cx="573.4" cy="231.4" r="6.2"/>
<circle cx="574.0" cy="357.1" r="6.2"/>
<circle cx="574.5" cy="280.7" r="6.2"/>
<circle cx="575.1" cy="275.7" r="6.2"/>
<circle cx="575.7" cy="311.8" r="6.2"/>
<circle cx="576.3" cy="343.0" r="6.2"/>
<circle cx="576.9" cy="370.6" r="6.2"/>
<circle cx="577.4" cy="163.7" r="6.2"/>
<circle cx="578.0" cy="199.4" r="6.2"/>
<circle cx="578.6" cy="342.8" r="6.2"/>
<circle cx="579.2" cy="250.0" r="6.2"/>
<circle cx="579.8" cy="314.9" r="6.2"/>
<circle cx="580.4" cy="258.4" r="6.2"/>
<circle cx="580.9" cy="278.2" r="6.2"/>
<circle cx="581.5" cy="257.0" r="6.2"/>
<circle cx="582.1" cy="296.3" r="6.2"/>
<circle cx="582.7" cy="300.1" r="6.2"/>
<circle cx="583.3" cy="243.6" r="6.2"/>
<circle cx="583.9" cy="275.8" r="6.2"/>
<circle cx="584.4" cy="348.5" r="6.2"/>
<circle cx="585.0" cy="251.4" r="6.2"/>
<circle cx="585.6" cy="313.1" r="6.2"/>
<circle cx="586.2" cy="336.4" r="6.2"/>
<circle cx="586.8" cy="308.3" r="6.2"/>
<circle cx="587.3" cy="347.7" r="6.2"/>
<circle cx="587.9" cy="297.5" r="6.2"/>
<circle cx="588.5" cy="238.8" r="6.2"/>
<circle cx="589.1" cy="328.4" r="6.2"/>
<circle cx="589.7" cy="286.1" r="6.2"/>
<circle cx="590.3" cy="276.2" r="6.2"/>
<circle cx="590.8" cy="361.1" r="6.2"/>
<circle cx="591.4" cy="233.2" r="6.2"/>
<circle cx="592.0" cy="228.2" r="6.2"/>
<circle cx="592.6" cy="363.1" r="6.2"/>
<circle cx="593.2" cy="312.2" r="6.2"/>
<circle cx="593.7" cy="187.4" r="6.2"/>
<circle cx="594.3" cy="271.4" r="6.2"/>
<circle cx="594.9" cy="163.3" r="6.2"/>
<circle cx="595.5" cy="325.4" r="6.2"/>
<circle cx="596.1" cy="235.6" r="6.2"/>
<circle cx="596.7" cy="201.8" r="6.2"/>
<circle cx="597.2" cy="317.8" r="6.2"/>
<circle cx="597.8" cy="286.2" r="6.2"/>
<circle cx="598.4" cy="290.8" r="6.2"/>
<circle cx="599.0" cy="279.0" r="6.2"/>
<circle cx="599.6" cy="283.7" r="6.2"/>
<circle cx="600.1" cy="241.7" r="6.2"/>
<circle cx="600.7" cy="302.5" r="6.2"/>
<circle cx="601.3" cy="287.9" r="6.2"/>
<circle cx="601.9" cy="324.9" r="6.2"/>
<circle cx="602.5" cy="272.8" r="6.2"/>
<circle cx="603.1" cy="324.7" r="6.2"/>
<circle cx="603.6" cy="194.8" r="6.2"/>
<circle cx="604.2" cy="332.7" r="6.2"/>
<circle cx="604.8" cy="179.0" r="6.2"/>
<circle cx="605.4" cy="253.6" r="6.2"/>
<circle cx="606.0" cy="350.2" r="6.2"/>
<circle cx="606.6" cy="308.7" r="6.2"/>
<circle cx="607.1" cy="237.2" r="6.2"/>
<circle cx="607.7" cy="272.2" r="6.2"/>
<circle cx="608.3" cy="296.1" r="6.2"/>
<circle cx="608.9" cy="233.0" r="6.2"/>
<circle cx="609.5" cy="287.1" r="6.2"/>
<circle cx="610.0" cy="338.2" r="6.2"/>
<circle cx="610.6" cy="215.8" r="6.2"/>
<circle cx="611.2" cy="306.6" r="6.2"/>
<circle cx="611.8" cy="220.5" r="6.2"/>
<circle cx="612.4" cy="303.0" r="6.2"/>
<circle cx="613.0" cy="248.7" r="6.2"/>
<circle cx="613.5" cy="347.9" r="6.2"/>
<circle cx="614.1" cy="252.9" r="6.2"/>
<circle cx="614.7" cy="330.0" r="6.2"/>
<circle cx="615.3" cy="314.5" r="6.2"/>
<circle cx="615.9" cy="234.1" r="6.2"/>
<circle cx="616.4" cy="252.7" r="6.2"/>
<circle cx="617.0" cy="266.6" r="6.2"/>
<circle cx="617.6" cy="193.0" r="6.2"/>
<circle cx="618.2" cy="214.3" r="6.2"/>
<circle cx="618.8" cy="218.2" r="6.2"/>
<circle cx="619.4" cy="311.0" r="6.2"/>
<circle cx="619.9" cy="313.4" r="6.2"/>
<circle cx="620.5" cy="387.8" r="6.2"/>
<circle cx="621.1" cy="238.5" r="6.2"/>
<circle cx="621.7" cy="234.3" r="6.2"/>
<circle cx="622.3" cy="315.0" r="6.2"/>
<circle cx="622.8" cy="243.6" r="6.2"/>
<circle cx="623.4" cy="231.3" r="6.2"/>
<circle cx="624.0" cy="229.7" r="6.2"/>
<circle cx="624.6" cy="218.5" r="6.2"/>
<circle cx="625.2" cy="242.6" r="6.2"/>
<circle cx="625.8" cy="253.4" r="6.2"/>
<circle cx="626.3" cy="329.2" r="6.2"/>
<circle cx="626.9" cy="286.1" r="6.2"/>
<circle cx="627.5" cy="295.3" r="6.2"/>
<circle cx="628.1" cy="284.1" r="6.2"/>
<circle cx="628.7" cy="437.0" r="6.2"/>
<circle cx="629.3" cy="251.7" r="6.2"/>
<circle cx="629.8" cy="285.5" r="6.2"/>
<circle cx="630.4" cy="293.4" r="6.2"/>
<circle cx="631.0" cy="270.7" r="6.2"/>
<circle cx="631.6" cy="224.5" r="6.2"/>
<circle cx="632.2" cy="364.2" r="6.2"/>
<circle cx="632.7" cy="251.7" r="6.2"/>
<circle cx="633.3" cy="275.2" r="6.2"/>
<circle cx="633.9" cy="308.3" r="6.2"/>
<circle cx="634.5" cy="272.0" r="6.2"/>
<circle cx="635.1" cy="196.3" r="6.2"/>
<circle cx="635.7" cy="259.0" r="6.2"/>
<circle cx="636.2" cy="269.1" r="6.2"/>
</g>
<path d="M86.80 26.80H662.40M86.80 523.00H662.40M86.80 26.80V523.00" stroke="#4a4a4a" stroke-width="2" fill="none" stroke-linecap="square"/>
<path d="M662.40 26.80V523.00" stroke="#4a4a4a" stroke-width="2" fill="none"/>
<path d="M112.96 523.00V529.00" stroke="#4a4a4a" stroke-width="1.8"/>
<text x="112.96" y="551.00" text-anchor="middle" font-size="23.5">0</text>
<path d="M229.38 523.00V529.00" stroke="#4a4a4a" stroke-width="1.8"/>
<text x="229.38" y="551.00" text-anchor="middle" font-size="23.5">200</text>
<path d="M345.79 523.00V529.00" stroke="#4a4a4a" stroke-width="1.8"/>
<text x="345.79" y="551.00" text-anchor="middle" font-size="23.5">400</text>
<path d="M462.20 523.00V529.00" stroke="#4a4a4a" stroke-width="1.8"/>
<text x="462.20" y="551.00" text-anchor="middle" font-size="23.5">600</text>
<path d="M578.61 523.00V529.00" stroke="#4a4a4a" stroke-width="1.8"/>
<text x="578.61" y="551.00" text-anchor="middle" font-size="23.5">800</text>
<path d="M80.80 523.00H86.80" stroke="#4a4a4a" stroke-width="1.8"/>
<text x="74.80" y="531.30" text-anchor="end" font-size="23.5" fill="#111">0</text>
<path d="M80.80 440.30H86.80" stroke="#4a4a4a" stroke-width="1.8"/>
<text x="74.80" y="448.60" text-anchor="end" font-size="23.5" fill="#111">2</text>
<path d="M80.80 357.60H86.80" stroke="#4a4a4a" stroke-width="1.8"/>
<text x="74.80" y="365.90" text-anchor="end" font-size="23.5" fill="#111">4</text>
<path d="M80.80 274.90H86.80" stroke="#4a4a4a" stroke-width="1.8"/>
<text x="74.80" y="283.20" text-anchor="end" font-size="23.5" fill="#111">6</text>
<path d="M80.80 192.20H86.80" stroke="#4a4a4a" stroke-width="1.8"/>
<text x="74.80" y="200.50" text-anchor="end" font-size="23.5" fill="#111">8</text>
<path d="M80.80 109.50H86.80" stroke="#4a4a4a" stroke-width="1.8"/>
<text x="74.80" y="117.80" text-anchor="end" font-size="23.5" fill="#111">10</text>
<path d="M80.80 26.80H86.80" stroke="#4a4a4a" stroke-width="1.8"/>
<text x="74.80" y="35.10" text-anchor="end" font-size="23.5" fill="#111">12</text>
<text x="374.60" y="581.50" text-anchor="middle" font-size="26.5">Dataset number - train</text>
<circle cx="471.3" cy="57.8" r="5.8" fill="#ff7648"/>
<circle cx="471.3" cy="91.0" r="5.8" fill="#8800e4"/>
<text x="514" y="64.3" font-size="23.5">Ground Truth</text>
<text x="514" y="97.7" font-size="23.5">Prediction</text>
<g transform="translate(0 343.2) rotate(-90)" fill="#111"><text transform="translate(-1 20.8) scale(1.246 1)" font-size="26.8" font-style="italic">σ</text><text transform="translate(16.7 25.4) scale(1.24 1)" font-size="22.5" font-style="italic">max</text><path d="M64.3 44.3L77.8 9.7" stroke="#111" stroke-width="2.2" fill="none"/><text transform="translate(77.9 43.5) scale(1.246 1)" font-size="26.8" font-style="italic">σ</text><text transform="translate(95.6 51.4) scale(0.905 1)" font-size="28">∞</text></g>
<text x="4" y="37.5" font-size="32">(a)</text>
<clipPath id="clip26"><rect x="767.9" y="26.8" width="575.8000000000001" height="496.2"/></clipPath>
<polyline clip-path="url(#clip26)" points="794.1,288.1 794.7,279.1 795.2,218.5 795.8,274.9 796.4,260.6 797.0,274.0 797.6,274.2 798.1,307.7 798.7,306.2 799.3,305.7 799.9,270.7 800.5,379.1 801.1,252.0 801.6,176.8 802.2,244.5 802.8,277.9 803.4,250.3 804.0,273.9 804.6,362.2 805.1,282.4 805.7,222.1 806.3,256.4 806.9,297.3 807.5,259.1 808.0,269.1 808.6,270.4 809.2,272.8 809.8,337.2 810.4,292.3 811.0,309.4 811.5,210.7 812.1,357.8 812.7,264.5 813.3,335.9 813.9,253.4 814.5,220.8 815.0,314.9 815.6,321.5 816.2,265.7 816.8,279.9 817.4,289.5 817.9,259.6 818.5,279.9 819.1,348.6 819.7,277.4 820.3,307.8 820.9,276.3 821.4,155.6 822.0,281.1 822.6,338.5 823.2,293.5 823.8,272.4 824.4,291.2 824.9,301.0 825.5,245.1 826.1,207.5 826.7,264.2 827.3,265.7 827.8,287.6 828.4,285.2 829.0,305.9 829.6,234.0 830.2,274.1 830.8,301.4 831.3,246.6 831.9,263.4 832.5,294.2 833.1,360.8 833.7,190.3 834.2,243.8 834.8,256.7 835.4,296.5 836.0,269.9 836.6,286.8 837.2,306.4 837.7,252.4 838.3,337.4 838.9,274.3 839.5,274.9 840.1,294.1 840.7,320.7 841.2,344.8 841.8,267.7 842.4,279.1 843.0,283.6 843.6,321.7 844.1,269.7 844.7,290.3 845.3,328.3 845.9,247.0 846.5,290.6 847.1,247.6 847.6,243.1 848.2,334.7 848.8,278.3 849.4,301.1 850.0,279.2 850.6,268.7 851.1,294.8 851.7,312.8 852.3,312.2 852.9,283.8 853.5,278.1 854.0,366.7 854.6,324.8 855.2,303.7 855.8,271.2 856.4,290.3 857.0,288.3 857.5,238.4 858.1,278.7 858.7,312.4 859.3,274.9 859.9,262.0 860.5,240.6 861.0,240.8 861.6,200.4 862.2,306.6 862.8,279.5 863.4,241.7 863.9,284.0 864.5,313.5 865.1,355.8 865.7,324.1 866.3,297.3 866.9,249.2 867.4,274.4 868.0,259.2 868.6,341.3 869.2,296.3 869.8,303.1 870.3,300.7 870.9,267.3 871.5,298.9 872.1,202.0 872.7,218.0 873.3,281.8 873.8,291.3 874.4,303.8 875.0,229.7 875.6,267.4 876.2,256.6 876.8,306.7 877.3,298.2 877.9,242.6 878.5,298.8 879.1,309.3 879.7,269.1 880.2,261.2 880.8,287.3 881.4,270.8 882.0,250.1 882.6,256.1 883.2,327.0 883.7,375.4 884.3,223.0 884.9,299.8 885.5,215.8 886.1,289.0 886.7,247.5 887.2,283.4 887.8,284.9 888.4,267.8 889.0,210.2 889.6,292.5 890.1,297.5 890.7,342.2 891.3,281.0 891.9,254.8 892.5,334.1 893.1,256.8 893.6,279.0 894.2,315.2 894.8,215.0 895.4,241.6 896.0,258.9 896.6,280.7 897.1,296.9 897.7,269.7 898.3,354.4 898.9,258.6 899.5,314.7 900.0,250.5 900.6,322.6 901.2,274.9 901.8,202.4 902.4,295.9 903.0,295.5 903.5,261.4 904.1,264.1 904.7,305.1 905.3,298.9 905.9,265.0 906.4,219.2 907.0,315.6 907.6,267.9 908.2,209.2 908.8,264.9 909.4,353.1 909.9,306.4 910.5,276.0 911.1,268.3 911.7,270.8 912.3,312.7 912.9,407.6 913.4,274.7 914.0,295.0 914.6,224.3 915.2,257.2 915.8,272.5 916.3,309.4 916.9,243.8 917.5,286.9 918.1,254.3 918.7,268.5 919.3,281.8 919.8,385.4 920.4,226.6 921.0,262.0 921.6,292.7 922.2,252.8 922.8,297.0 923.3,379.7 923.9,246.0 924.5,249.0 925.1,264.4 925.7,241.4 926.2,296.0 926.8,308.5 927.4,310.4 928.0,280.2 928.6,239.9 929.2,296.4 929.7,274.4 930.3,364.3 930.9,304.1 931.5,263.9 932.1,271.5 932.7,276.1 933.2,296.9 933.8,253.2 934.4,314.8 935.0,301.9 935.6,276.3 936.1,314.9 936.7,318.9 937.3,268.2 937.9,274.7 938.5,325.0 939.1,290.8 939.6,273.2 940.2,208.9 940.8,252.5 941.4,293.7 942.0,239.1 942.5,276.7 943.1,335.8 943.7,283.6 944.3,245.2 944.9,284.6 945.5,323.5 946.0,313.4 946.6,263.1 947.2,246.6 947.8,301.6 948.4,322.0 949.0,266.4 949.5,210.9 950.1,274.9 950.7,273.3 951.3,295.5 951.9,333.0 952.4,203.4 953.0,300.9 953.6,310.1 954.2,306.4 954.8,197.6 955.4,311.6 955.9,323.4 956.5,250.1 957.1,303.7 957.7,309.0 958.3,274.9 958.9,230.4 959.4,223.3 960.0,260.1 960.6,307.5 961.2,313.4 961.8,277.1 962.3,232.9 962.9,277.0 963.5,217.9 964.1,299.5 964.7,266.5 965.3,284.5 965.8,272.5 966.4,244.3 967.0,286.5 967.6,272.2 968.2,305.9 968.8,377.0 969.3,230.7 969.9,282.3 970.5,246.3 971.1,264.6 971.7,291.2 972.2,248.5 972.8,295.4 973.4,280.4 974.0,296.7 974.6,297.2 975.2,268.0 975.7,290.7 976.3,247.0 976.9,305.8 977.5,299.5 978.1,265.9 978.7,281.6 979.2,272.6 979.8,281.8 980.4,247.8 981.0,353.8 981.6,292.3 982.1,246.4 982.7,310.2 983.3,290.7 983.9,290.0 984.5,321.1 985.1,281.3 985.6,253.8 986.2,201.3 986.8,283.4 987.4,269.4 988.0,242.0 988.5,386.5 989.1,265.5 989.7,293.9 990.3,274.0 990.9,259.0 991.5,285.5 992.0,247.2 992.6,291.4 993.2,248.7 993.8,339.7 994.4,203.4 995.0,285.2 995.5,252.2 996.1,322.2 996.7,348.4 997.3,224.8 997.9,279.2 998.4,208.3 999.0,289.1 999.6,299.4 1000.2,308.0 1000.8,285.1 1001.4,288.4 1001.9,264.4 1002.5,307.6 1003.1,299.7 1003.7,291.8 1004.3,289.9 1004.9,355.5 1005.4,307.2 1006.0,245.2 1006.6,232.7 1007.2,289.4 1007.8,190.6 1008.3,305.0 1008.9,246.2 1009.5,317.3 1010.1,257.3 1010.7,280.4 1011.3,416.3 1011.8,416.3 1012.4,254.5 1013.0,272.6 1013.6,270.8 1014.2,280.1 1014.8,269.1 1015.3,264.9 1015.9,297.3 1016.5,253.1 1017.1,227.3 1017.7,265.7 1018.2,273.7 1018.8,252.1 1019.4,265.1 1020.0,307.5 1020.6,295.4 1021.2,257.1 1021.7,203.3 1022.3,284.4 1022.9,280.5 1023.5,329.0 1024.1,298.6 1024.6,262.6 1025.2,297.8 1025.8,322.5 1026.4,247.5 1027.0,311.7 1027.6,279.1 1028.1,315.1 1028.7,352.0 1029.3,274.9 1029.9,314.8 1030.5,354.5 1031.1,272.3 1031.6,260.3 1032.2,283.5 1032.8,234.6 1033.4,281.4 1034.0,217.0 1034.5,343.2 1035.1,297.9 1035.7,214.0 1036.3,337.0 1036.9,282.9 1037.5,270.0 1038.0,314.0 1038.6,276.5 1039.2,291.1 1039.8,234.2 1040.4,248.0 1041.0,268.5 1041.5,239.2 1042.1,243.0 1042.7,305.2 1043.3,276.3 1043.9,251.6 1044.4,295.4 1045.0,244.6 1045.6,331.6 1046.2,278.9 1046.8,369.9 1047.4,250.4 1047.9,247.7 1048.5,322.0 1049.1,317.3 1049.7,271.8 1050.3,321.2 1050.9,315.7 1051.4,327.4 1052.0,312.1 1052.6,291.1 1053.2,207.6 1053.8,293.8 1054.3,319.8 1054.9,254.4 1055.5,197.5 1056.1,337.1 1056.7,304.3 1057.3,250.0 1057.8,247.2 1058.4,288.8 1059.0,335.1 1059.6,286.4 1060.2,270.5 1060.7,321.0 1061.3,268.4 1061.9,210.6 1062.5,319.0 1063.1,250.4 1063.7,269.6 1064.2,297.2 1064.8,298.3 1065.4,266.9 1066.0,297.0 1066.6,272.3 1067.2,269.1 1067.7,319.6 1068.3,309.8 1068.9,253.8 1069.5,248.3 1070.1,309.9 1070.6,249.0 1071.2,269.0 1071.8,268.9 1072.4,236.3 1073.0,274.9 1073.6,258.0 1074.1,280.6 1074.7,264.0 1075.3,255.0 1075.9,271.0 1076.5,280.8 1077.1,278.9 1077.6,273.5 1078.2,329.4 1078.8,245.5 1079.4,318.3 1080.0,344.5 1080.5,376.2 1081.1,237.0 1081.7,292.2 1082.3,285.3 1082.9,264.9 1083.5,339.1 1084.0,305.7 1084.6,266.9 1085.2,433.7 1085.8,433.7 1086.4,302.2 1087.0,267.7 1087.5,280.1 1088.1,328.1 1088.7,291.0 1089.3,270.7 1089.9,288.5 1090.4,242.4 1091.0,279.7 1091.6,260.7 1092.2,221.7 1092.8,276.1 1093.4,229.6 1093.9,237.9 1094.5,308.3 1095.1,234.3 1095.7,282.0 1096.3,281.8 1096.8,252.9 1097.4,271.7 1098.0,267.1 1098.6,158.8 1099.2,300.9 1099.8,276.2 1100.3,246.6 1100.9,268.4 1101.5,281.0 1102.1,276.7 1102.7,234.2 1103.3,282.4 1103.8,346.8 1104.4,302.3 1105.0,225.8 1105.6,235.3 1106.2,278.0 1106.7,292.7 1107.3,289.1 1107.9,294.8 1108.5,271.5 1109.1,340.1 1109.7,265.3 1110.2,297.6 1110.8,98.2 1111.4,308.8 1112.0,329.0 1112.6,201.9 1113.2,217.8 1113.7,268.8 1114.3,295.2 1114.9,267.2 1115.5,256.3 1116.1,276.1 1116.6,275.6 1117.2,268.6 1117.8,331.0 1118.4,303.4 1119.0,310.9 1119.6,280.7 1120.1,292.5 1120.7,271.4 1121.3,267.7 1121.9,270.2 1122.5,277.5 1123.1,273.8 1123.6,320.3 1124.2,326.9 1124.8,290.2 1125.4,284.4 1126.0,234.4 1126.5,259.9 1127.1,264.4 1127.7,278.7 1128.3,274.9 1128.9,259.0 1129.5,318.1 1130.0,288.8 1130.6,213.9 1131.2,344.8 1131.8,197.4 1132.4,289.6 1132.9,242.8 1133.5,355.0 1134.1,307.4 1134.7,278.9 1135.3,299.4 1135.9,256.6 1136.4,266.2 1137.0,290.3 1137.6,299.0 1138.2,376.6 1138.8,343.7 1139.4,256.3 1139.9,328.2 1140.5,304.9 1141.1,251.9 1141.7,242.4 1142.3,223.3 1142.8,240.0 1143.4,262.6 1144.0,338.4 1144.6,293.6 1145.2,241.5 1145.8,263.7 1146.3,274.9 1146.9,231.2 1147.5,280.5 1148.1,256.4 1148.7,289.1 1149.3,205.5 1149.8,287.5 1150.4,254.3 1151.0,300.2 1151.6,290.7 1152.2,276.6 1152.7,266.4 1153.3,294.4 1153.9,217.8 1154.5,223.4 1155.1,268.4 1155.7,283.9 1156.2,224.1 1156.8,288.8 1157.4,253.5 1158.0,269.0 1158.6,391.2 1159.2,274.9 1159.7,264.1 1160.3,323.0 1160.9,263.9 1161.5,330.2 1162.1,314.5 1162.6,283.9 1163.2,242.1 1163.8,252.5 1164.4,306.5 1165.0,283.4 1165.6,270.7 1166.1,269.4 1166.7,287.7 1167.3,276.0 1167.9,278.1 1168.5,279.2 1169.1,255.4 1169.6,310.7 1170.2,301.5 1170.8,262.2 1171.4,289.8 1172.0,330.1 1172.5,320.9 1173.1,253.9 1173.7,324.2 1174.3,320.5 1174.9,240.1 1175.5,266.7 1176.0,255.1 1176.6,234.0 1177.2,184.5 1177.8,235.9 1178.4,366.7 1178.9,309.5 1179.5,329.4 1180.1,290.5 1180.7,284.6 1181.3,250.8 1181.9,351.4 1182.4,255.0 1183.0,230.5 1183.6,274.2 1184.2,263.2 1184.8,260.0 1185.4,243.7 1185.9,177.8 1186.5,296.0 1187.1,258.6 1187.7,278.0 1188.3,274.9 1188.8,328.1 1189.4,181.6 1190.0,290.2 1190.6,246.3 1191.2,281.8 1191.8,268.7 1192.3,295.2 1192.9,269.9 1193.5,305.8 1194.1,225.0 1194.7,317.4 1195.3,319.5 1195.8,268.2 1196.4,275.5 1197.0,328.6 1197.6,280.1 1198.2,268.4 1198.7,277.7 1199.3,229.5 1199.9,308.6 1200.5,355.8 1201.1,321.4 1201.7,350.5 1202.2,304.5 1202.8,336.3 1203.4,307.2 1204.0,302.8 1204.6,305.2 1205.2,273.8 1205.7,284.0 1206.3,317.1 1206.9,212.1 1207.5,262.0 1208.1,311.0 1208.6,320.6 1209.2,229.3 1209.8,277.1 1210.4,353.9 1211.0,296.0 1211.6,216.5 1212.1,274.9 1212.7,247.2 1213.3,299.2 1213.9,296.6 1214.5,291.7 1215.0,258.4 1215.6,263.1 1216.2,282.8 1216.8,145.6 1217.4,258.2 1218.0,292.0 1218.5,275.8 1219.1,271.6 1219.7,277.8 1220.3,301.3 1220.9,249.1 1221.5,269.0 1222.0,268.9 1222.6,295.0 1223.2,247.5 1223.8,256.0 1224.4,273.3 1224.9,289.9 1225.5,299.0 1226.1,342.1 1226.7,262.0 1227.3,326.9 1227.9,266.8 1228.4,305.9 1229.0,292.2 1229.6,268.5 1230.2,209.6 1230.8,291.0 1231.4,278.2 1231.9,295.3 1232.5,248.8 1233.1,274.9 1233.7,339.1 1234.3,316.6 1234.8,277.7 1235.4,302.2 1236.0,265.3 1236.6,266.7 1237.2,412.6 1237.8,275.7 1238.3,272.9 1238.9,349.3 1239.5,214.6 1240.1,307.2 1240.7,290.4 1241.3,303.8 1241.8,237.8 1242.4,306.5 1243.0,265.2 1243.6,254.3 1244.2,330.1 1244.7,273.1 1245.3,294.7 1245.9,279.9 1246.5,313.5 1247.1,274.8 1247.7,255.8 1248.2,294.3 1248.8,283.9 1249.4,253.2 1250.0,293.5 1250.6,317.9 1251.1,300.6 1251.7,262.0 1252.3,286.2 1252.9,268.9 1253.5,297.3 1254.1,293.3 1254.6,232.7 1255.2,309.2 1255.8,333.6 1256.4,250.1 1257.0,245.3 1257.6,331.6 1258.1,285.8 1258.7,353.1 1259.3,366.4 1259.9,316.0 1260.5,325.3 1261.0,291.4 1261.6,271.0 1262.2,200.3 1262.8,275.2 1263.4,328.3 1264.0,261.5 1264.5,315.6 1265.1,280.6 1265.7,267.8 1266.3,267.3 1266.9,325.9 1267.5,239.5 1268.0,250.9 1268.6,291.6 1269.2,281.2 1269.8,311.1 1270.4,254.8 1270.9,282.4 1271.5,233.9 1272.1,303.2 1272.7,275.2 1273.3,248.1 1273.9,251.9 1274.4,254.0 1275.0,314.4 1275.6,271.2 1276.2,274.9 1276.8,299.3 1277.4,294.9 1277.9,232.9 1278.5,289.3 1279.1,250.1 1279.7,290.8 1280.3,231.8 1280.8,255.1 1281.4,318.0 1282.0,288.5 1282.6,328.4 1283.2,327.0 1283.8,267.1 1284.3,337.3 1284.9,262.4 1285.5,260.3 1286.1,317.1 1286.7,242.0 1287.2,265.1 1287.8,298.7 1288.4,244.0 1289.0,297.6 1289.6,257.7 1290.2,322.7 1290.7,307.7 1291.3,296.3 1291.9,216.2 1292.5,208.5 1293.1,204.1 1293.7,313.1 1294.2,221.2 1294.8,316.1 1295.4,282.7 1296.0,261.9 1296.6,268.3 1297.1,285.7 1297.7,360.0 1298.3,374.1 1298.9,265.0 1299.5,264.5 1300.1,254.2 1300.6,301.5 1301.2,298.9 1301.8,274.9 1302.4,300.5 1303.0,321.2 1303.6,267.2 1304.1,274.7 1304.7,288.7 1305.3,259.2 1305.9,261.6 1306.5,236.0 1307.0,349.9 1307.6,228.4 1308.2,279.3 1308.8,276.7 1309.4,281.4 1310.0,283.6 1310.5,284.4 1311.1,302.7 1311.7,263.4 1312.3,268.9 1312.9,376.6 1313.5,274.9 1314.0,238.0 1314.6,293.1 1315.2,325.6 1315.8,226.1 1316.4,310.9 1316.9,252.4 1317.5,315.1" fill="none" stroke="#ff1a1a" stroke-width="2.7" stroke-linejoin="round"/>
<path d="M1081.6 95.8H1130.7" stroke="#ff1a1a" stroke-width="2.4"/>
<text x="1149" y="104.3" font-size="23.5">Absolute Error</text>
<polyline clip-path="url(#clip26)" points="794.1,290.2 794.7,280.7 795.2,212.0 795.8,274.9 796.4,254.0 797.0,273.9 797.6,274.4 798.1,322.9 798.7,302.9 799.3,301.5 799.9,268.1 800.5,361.3 801.1,243.6 801.6,162.4 802.2,232.5 802.8,279.2 803.4,236.5 804.0,274.0 804.6,353.5 805.1,285.0 805.7,196.3 806.3,253.1 806.9,300.1 807.5,249.5 808.0,268.0 808.6,270.2 809.2,272.8 809.8,350.5 810.4,305.4 811.0,305.7 811.5,175.7 812.1,340.4 812.7,262.2 813.3,348.0 813.9,243.1 814.5,225.6 815.0,331.3 815.6,329.6 816.2,265.4 816.8,278.9 817.4,287.5 817.9,258.7 818.5,281.0 819.1,353.5 819.7,277.6 820.3,311.0 820.9,276.3 821.4,141.8 822.0,291.4 822.6,352.6 823.2,300.2 823.8,271.5 824.4,293.3 824.9,295.8 825.5,212.3 826.1,211.0 826.7,262.5 827.3,266.7 827.8,290.0 828.4,284.4 829.0,306.2 829.6,239.0 830.2,273.9 830.8,302.1 831.3,239.6 831.9,258.2 832.5,298.1 833.1,353.3 833.7,196.3 834.2,245.5 834.8,256.7 835.4,309.9 836.0,269.2 836.6,294.7 837.2,320.4 837.7,241.2 838.3,348.1 838.9,274.0 839.5,274.9 840.1,297.1 840.7,336.3 841.2,337.6 841.8,267.6 842.4,279.8 843.0,284.1 843.6,320.5 844.1,267.6 844.7,295.5 845.3,320.6 845.9,233.3 846.5,293.9 847.1,239.5 847.6,228.2 848.2,359.3 848.8,279.9 849.4,303.9 850.0,280.0 850.6,267.4 851.1,297.8 851.7,313.0 852.3,323.6 852.9,283.8 853.5,280.1 854.0,348.1 854.6,338.4 855.2,322.1 855.8,271.8 856.4,294.5 857.0,295.2 857.5,235.4 858.1,281.0 858.7,321.6 859.3,274.9 859.9,258.3 860.5,230.9 861.0,241.5 861.6,186.4 862.2,303.9 862.8,282.4 863.4,229.5 863.9,285.1 864.5,319.3 865.1,353.5 865.7,319.7 866.3,304.4 866.9,238.7 867.4,274.2 868.0,257.3 868.6,365.9 869.2,304.1 869.8,313.5 870.3,305.5 870.9,266.1 871.5,312.8 872.1,186.4 872.7,216.8 873.3,286.5 873.8,292.8 874.4,301.8 875.0,229.4 875.6,265.1 876.2,251.8 876.8,305.9 877.3,302.0 877.9,239.9 878.5,304.8 879.1,306.4 879.7,266.4 880.2,261.5 880.8,291.5 881.4,270.9 882.0,254.2 882.6,245.0 883.2,313.4 883.7,386.5 884.3,233.1 884.9,302.3 885.5,203.6 886.1,296.1 886.7,250.6 887.2,285.3 887.8,286.8 888.4,267.1 889.0,189.7 889.6,296.0 890.1,299.8 890.7,353.5 891.3,281.7 891.9,252.2 892.5,353.5 893.1,256.9 893.6,279.7 894.2,325.9 894.8,212.9 895.4,237.8 896.0,259.7 896.6,280.1 897.1,307.3 897.7,268.7 898.3,353.5 898.9,252.5 899.5,314.8 900.0,249.8 900.6,327.3 901.2,274.9 901.8,209.6 902.4,299.3 903.0,302.9 903.5,257.9 904.1,262.6 904.7,309.4 905.3,301.9 905.9,264.8 906.4,221.1 907.0,324.6 907.6,264.6 908.2,193.0 908.8,264.9 909.4,336.3 909.9,320.1 910.5,276.9 911.1,265.8 911.7,267.2 912.3,330.4 912.9,372.5 913.4,274.6 914.0,301.4 914.6,224.5 915.2,246.6 915.8,271.2 916.3,309.8 916.9,222.5 917.5,289.0 918.1,251.4 918.7,264.0 919.3,284.8 919.8,397.3 920.4,219.7 921.0,256.6 921.6,304.9 922.2,252.8 922.8,299.6 923.3,392.3 923.9,227.8 924.5,232.5 925.1,262.7 925.7,197.1 926.2,308.7 926.8,327.3 927.4,324.6 928.0,282.4 928.6,239.0 929.2,296.7 929.7,273.8 930.3,394.0 930.9,314.4 931.5,264.3 932.1,270.0 932.7,276.9 933.2,313.0 933.8,242.2 934.4,321.7 935.0,316.3 935.6,276.5 936.1,322.9 936.7,319.8 937.3,268.5 937.9,274.5 938.5,338.4 939.1,300.0 939.6,273.1 940.2,183.1 940.8,248.2 941.4,299.2 942.0,208.8 942.5,277.2 943.1,338.5 943.7,285.5 944.3,225.7 944.9,293.0 945.5,322.0 946.0,311.3 946.6,263.6 947.2,245.4 947.8,299.7 948.4,315.3 949.0,262.8 949.5,203.2 950.1,274.9 950.7,273.2 951.3,307.9 951.9,338.1 952.4,188.9 953.0,303.0 953.6,317.7 954.2,304.6 954.8,196.3 955.4,322.2 955.9,322.6 956.5,221.5 957.1,314.7 957.7,321.9 958.3,274.9 958.9,231.7 959.4,217.2 960.0,261.5 960.6,321.9 961.2,306.3 961.8,276.9 962.3,229.8 962.9,277.6 963.5,196.3 964.1,308.0 964.7,266.0 965.3,286.6 965.8,271.7 966.4,245.6 967.0,295.9 967.6,272.5 968.2,314.4 968.8,353.5 969.3,196.3 969.9,286.6 970.5,230.9 971.1,265.0 971.7,289.6 972.2,235.0 972.8,308.7 973.4,282.3 974.0,295.4 974.6,302.9 975.2,264.6 975.7,304.8 976.3,225.5 976.9,318.0 977.5,302.5 978.1,263.4 978.7,286.3 979.2,271.2 979.8,281.7 980.4,246.9 981.0,371.7 981.6,307.6 982.1,213.5 982.7,310.1 983.3,302.5 983.9,291.6 984.5,320.7 985.1,281.3 985.6,241.4 986.2,196.3 986.8,284.4 987.4,266.6 988.0,240.8 988.5,352.4 989.1,259.7 989.7,292.5 990.3,273.9 990.9,247.6 991.5,286.7 992.0,246.9 992.6,293.7 993.2,248.2 993.8,345.5 994.4,159.1 995.0,285.3 995.5,242.2 996.1,340.7 996.7,353.5 997.3,224.2 997.9,281.6 998.4,197.4 999.0,292.0 999.6,296.2 1000.2,332.7 1000.8,288.4 1001.4,292.6 1001.9,261.7 1002.5,319.3 1003.1,293.5 1003.7,294.5 1004.3,303.0 1004.9,348.1 1005.4,345.5 1006.0,232.5 1006.6,220.5 1007.2,298.6 1007.8,164.1 1008.3,323.7 1008.9,246.6 1009.5,330.6 1010.1,249.0 1010.7,282.9 1011.3,367.0 1011.8,366.7 1012.4,243.9 1013.0,272.9 1013.6,268.8 1014.2,282.5 1014.8,269.2 1015.3,261.3 1015.9,301.5 1016.5,254.9 1017.1,227.7 1017.7,259.4 1018.2,273.4 1018.8,248.1 1019.4,265.9 1020.0,305.4 1020.6,299.8 1021.2,253.8 1021.7,169.9 1022.3,294.6 1022.9,284.9 1023.5,346.1 1024.1,311.0 1024.6,259.1 1025.2,311.4 1025.8,324.5 1026.4,247.6 1027.0,320.0 1027.6,281.4 1028.1,330.3 1028.7,353.5 1029.3,274.9 1029.9,340.6 1030.5,373.3 1031.1,272.2 1031.6,261.6 1032.2,285.0 1032.8,234.4 1033.4,285.6 1034.0,184.8 1034.5,353.5 1035.1,296.4 1035.7,212.6 1036.3,337.1 1036.9,284.5 1037.5,267.1 1038.0,315.9 1038.6,277.4 1039.2,300.3 1039.8,228.2 1040.4,238.1 1041.0,266.1 1041.5,232.7 1042.1,237.5 1042.7,300.5 1043.3,276.3 1043.9,242.9 1044.4,307.5 1045.0,238.4 1045.6,329.6 1046.2,278.9 1046.8,353.5 1047.4,240.9 1047.9,250.1 1048.5,325.8 1049.1,327.6 1049.7,271.8 1050.3,332.3 1050.9,334.0 1051.4,348.3 1052.0,303.7 1052.6,294.2 1053.2,219.9 1053.8,298.9 1054.3,338.3 1054.9,245.9 1055.5,162.4 1056.1,367.5 1056.7,320.2 1057.3,239.6 1057.8,235.0 1058.4,295.3 1059.0,333.4 1059.6,289.8 1060.2,270.3 1060.7,323.3 1061.3,268.1 1061.9,180.6 1062.5,315.2 1063.1,253.2 1063.7,269.0 1064.2,300.5 1064.8,308.1 1065.4,262.1 1066.0,304.6 1066.6,272.2 1067.2,265.3 1067.7,310.5 1068.3,310.5 1068.9,251.8 1069.5,249.0 1070.1,309.0 1070.6,247.2 1071.2,265.1 1071.8,268.2 1072.4,229.5 1073.0,274.9 1073.6,257.2 1074.1,284.3 1074.7,264.2 1075.3,245.8 1075.9,270.3 1076.5,282.7 1077.1,278.8 1077.6,273.1 1078.2,353.5 1078.8,233.8 1079.4,308.0 1080.0,353.5 1080.5,404.7 1081.1,230.2 1081.7,291.4 1082.3,285.4 1082.9,253.7 1083.5,344.4 1084.0,314.7 1084.6,266.1 1085.2,390.7 1085.8,389.7 1086.4,331.8 1087.0,267.5 1087.5,280.6 1088.1,327.0 1088.7,290.3 1089.3,267.3 1089.9,297.0 1090.4,233.1 1091.0,280.1 1091.6,257.8 1092.2,223.0 1092.8,276.7 1093.4,236.5 1093.9,237.3 1094.5,329.7 1095.1,214.7 1095.7,284.6 1096.3,283.4 1096.8,244.1 1097.4,270.7 1098.0,267.8 1098.6,143.4 1099.2,295.8 1099.8,276.1 1100.3,241.7 1100.9,269.4 1101.5,282.7 1102.1,277.1 1102.7,224.2 1103.3,285.7 1103.8,326.0 1104.4,298.3 1105.0,196.3 1105.6,241.1 1106.2,280.0 1106.7,288.9 1107.3,289.4 1107.9,293.1 1108.5,269.4 1109.1,345.4 1109.7,255.5 1110.2,295.7 1110.8,55.7 1111.4,310.7 1112.0,348.2 1112.6,214.9 1113.2,228.7 1113.7,269.4 1114.3,300.3 1114.9,261.1 1115.5,256.9 1116.1,276.8 1116.6,276.1 1117.2,264.8 1117.8,353.5 1118.4,295.9 1119.0,314.4 1119.6,283.5 1120.1,299.8 1120.7,269.6 1121.3,265.8 1121.9,269.4 1122.5,278.7 1123.1,273.8 1123.6,323.1 1124.2,329.0 1124.8,294.2 1125.4,284.9 1126.0,220.9 1126.5,256.3 1127.1,264.1 1127.7,279.1 1128.3,274.9 1128.9,252.9 1129.5,328.8 1130.0,297.5 1130.6,225.1 1131.2,346.2 1131.8,179.0 1132.4,290.3 1132.9,230.5 1133.5,346.0 1134.1,314.0 1134.7,281.8 1135.3,302.9 1135.9,257.2 1136.4,264.9 1137.0,299.6 1137.6,316.0 1138.2,379.2 1138.8,353.5 1139.4,260.1 1139.9,311.1 1140.5,303.8 1141.1,232.9 1141.7,236.0 1142.3,211.4 1142.8,216.7 1143.4,258.9 1144.0,340.9 1144.6,309.4 1145.2,223.5 1145.8,260.5 1146.3,274.9 1146.9,233.2 1147.5,284.8 1148.1,253.7 1148.7,290.1 1149.3,193.0 1149.8,292.2 1150.4,247.1 1151.0,323.4 1151.6,300.9 1152.2,277.7 1152.7,263.5 1153.3,309.1 1153.9,195.5 1154.5,225.2 1155.1,263.1 1155.7,287.9 1156.2,207.5 1156.8,297.2 1157.4,251.1 1158.0,265.6 1158.6,433.7 1159.2,274.9 1159.7,256.6 1160.3,353.5 1160.9,257.5 1161.5,337.1 1162.1,318.1 1162.6,282.7 1163.2,243.7 1163.8,252.9 1164.4,331.3 1165.0,286.3 1165.6,269.3 1166.1,269.1 1166.7,288.4 1167.3,276.3 1167.9,279.0 1168.5,282.2 1169.1,244.6 1169.6,324.0 1170.2,310.7 1170.8,251.2 1171.4,297.3 1172.0,331.8 1172.5,340.8 1173.1,251.8 1173.7,332.1 1174.3,328.5 1174.9,226.6 1175.5,259.7 1176.0,258.8 1176.6,159.7 1177.2,163.3 1177.8,220.2 1178.4,337.3 1178.9,335.6 1179.5,332.7 1180.1,301.7 1180.7,290.0 1181.3,248.8 1181.9,391.5 1182.4,243.4 1183.0,218.5 1183.6,274.1 1184.2,259.7 1184.8,262.5 1185.4,228.6 1185.9,159.9 1186.5,302.1 1187.1,260.2 1187.7,278.0 1188.3,274.9 1188.8,323.0 1189.4,171.5 1190.0,299.0 1190.6,228.4 1191.2,282.7 1191.8,266.7 1192.3,310.8 1192.9,267.1 1193.5,307.0 1194.1,196.3 1194.7,327.3 1195.3,333.7 1195.8,266.3 1196.4,275.6 1197.0,337.5 1197.6,284.1 1198.2,267.8 1198.7,279.5 1199.3,224.7 1199.9,309.0 1200.5,365.9 1201.1,328.3 1201.7,342.3 1202.2,318.6 1202.8,341.0 1203.4,321.4 1204.0,302.0 1204.6,307.9 1205.2,273.5 1205.7,282.4 1206.3,307.2 1206.9,171.5 1207.5,257.2 1208.1,312.8 1208.6,318.2 1209.2,228.3 1209.8,277.2 1210.4,362.6 1211.0,299.0 1211.6,196.3 1212.1,274.9 1212.7,235.8 1213.3,305.0 1213.9,294.4 1214.5,296.6 1215.0,254.0 1215.6,256.6 1216.2,285.5 1216.8,79.7 1217.4,257.8 1218.0,300.0 1218.5,276.5 1219.1,271.9 1219.7,278.4 1220.3,319.7 1220.9,247.1 1221.5,264.0 1222.0,269.4 1222.6,308.3 1223.2,246.9 1223.8,248.6 1224.4,271.9 1224.9,290.7 1225.5,299.7 1226.1,381.6 1226.7,261.1 1227.3,322.5 1227.9,262.7 1228.4,320.1 1229.0,297.9 1229.6,267.7 1230.2,211.1 1230.8,293.3 1231.4,280.9 1231.9,294.6 1232.5,233.4 1233.1,274.9 1233.7,351.8 1234.3,325.9 1234.8,278.0 1235.4,323.4 1236.0,265.2 1236.6,263.7 1237.2,394.7 1237.8,276.0 1238.3,271.5 1238.9,327.1 1239.5,206.0 1240.1,298.1 1240.7,287.2 1241.3,322.0 1241.8,231.6 1242.4,321.6 1243.0,266.4 1243.6,246.7 1244.2,324.2 1244.7,273.1 1245.3,300.6 1245.9,283.4 1246.5,331.7 1247.1,274.8 1247.7,249.6 1248.2,298.0 1248.8,283.9 1249.4,254.3 1250.0,317.7 1250.6,325.6 1251.1,299.1 1251.7,259.7 1252.3,293.8 1252.9,262.5 1253.5,314.4 1254.1,297.6 1254.6,233.0 1255.2,328.2 1255.8,336.7 1256.4,246.3 1257.0,234.3 1257.6,353.5 1258.1,294.1 1258.7,330.8 1259.3,346.1 1259.9,333.3 1260.5,322.9 1261.0,296.1 1261.6,270.8 1262.2,181.4 1262.8,275.3 1263.4,335.2 1264.0,258.0 1264.5,313.2 1265.1,281.2 1265.7,263.6 1266.3,267.1 1266.9,336.9 1267.5,219.0 1268.0,242.9 1268.6,300.4 1269.2,282.5 1269.8,308.6 1270.4,245.5 1270.9,283.5 1271.5,226.5 1272.1,320.4 1272.7,275.2 1273.3,249.0 1273.9,233.2 1274.4,246.6 1275.0,306.1 1275.6,270.8 1276.2,274.9 1276.8,307.6 1277.4,293.6 1277.9,237.2 1278.5,293.9 1279.1,245.0 1279.7,293.4 1280.3,223.1 1280.8,251.5 1281.4,315.0 1282.0,291.6 1282.6,333.2 1283.2,341.5 1283.8,266.2 1284.3,353.5 1284.9,264.3 1285.5,253.2 1286.1,307.4 1286.7,239.8 1287.2,259.0 1287.8,304.4 1288.4,244.0 1289.0,299.1 1289.6,253.4 1290.2,317.9 1290.7,311.5 1291.3,305.6 1291.9,218.6 1292.5,180.6 1293.1,204.9 1293.7,320.2 1294.2,217.2 1294.8,335.0 1295.4,282.8 1296.0,255.9 1296.6,266.1 1297.1,285.1 1297.7,353.5 1298.3,369.4 1298.9,266.5 1299.5,265.5 1300.1,255.7 1300.6,308.1 1301.2,305.3 1301.8,274.9 1302.4,299.0 1303.0,316.9 1303.6,264.6 1304.1,274.7 1304.7,287.7 1305.3,259.8 1305.9,262.7 1306.5,234.8 1307.0,345.1 1307.6,203.0 1308.2,279.9 1308.8,277.0 1309.4,282.3 1310.0,301.8 1310.5,284.4 1311.1,305.9 1311.7,260.9 1312.3,268.3 1312.9,359.2 1313.5,274.9 1314.0,235.6 1314.6,294.6 1315.2,335.2 1315.8,217.6 1316.4,304.2 1316.9,250.7 1317.5,316.3" fill="none" stroke="#0a0af8" stroke-width="2.7" stroke-linejoin="round"/>
<rect x="1072" y="34.8" width="262" height="43.5" fill="#fff" fill-opacity="0.8"/>
<path d="M1081.6 55.5H1130.7" stroke="#0a0af8" stroke-width="2.4"/>
<text x="1149" y="65.0" font-size="23.5">Relative Error (%)</text>
<path d="M767.90 26.80H1343.70M767.90 523.00H1343.70M767.90 26.80V523.00" stroke="#4a4a4a" stroke-width="2" fill="none" stroke-linecap="square"/>
<path d="M1343.70 26.80V523.00" stroke="#7468dc" stroke-width="2" fill="none"/>
<path d="M794.07 523.00V529.00" stroke="#4a4a4a" stroke-width="1.8"/>
<text x="794.07" y="551.00" text-anchor="middle" font-size="23.5">0</text>
<path d="M910.53 523.00V529.00" stroke="#4a4a4a" stroke-width="1.8"/>
<text x="910.53" y="551.00" text-anchor="middle" font-size="23.5">200</text>
<path d="M1026.98 523.00V529.00" stroke="#4a4a4a" stroke-width="1.8"/>
<text x="1026.98" y="551.00" text-anchor="middle" font-size="23.5">400</text>
<path d="M1143.43 523.00V529.00" stroke="#4a4a4a" stroke-width="1.8"/>
<text x="1143.43" y="551.00" text-anchor="middle" font-size="23.5">600</text>
<path d="M1259.88 523.00V529.00" stroke="#4a4a4a" stroke-width="1.8"/>
<text x="1259.88" y="551.00" text-anchor="middle" font-size="23.5">800</text>
<path d="M761.90 398.95H767.90" stroke="#ff1a1a" stroke-width="1.8"/>
<text x="755.90" y="407.25" text-anchor="end" font-size="23.5" fill="#ff1a1a">−1.0</text>
<path d="M761.90 336.93H767.90" stroke="#ff1a1a" stroke-width="1.8"/>
<text x="755.90" y="345.23" text-anchor="end" font-size="23.5" fill="#ff1a1a">−0.5</text>
<path d="M761.90 274.90H767.90" stroke="#ff1a1a" stroke-width="1.8"/>
<text x="755.90" y="283.20" text-anchor="end" font-size="23.5" fill="#ff1a1a">0.0</text>
<path d="M761.90 212.88H767.90" stroke="#ff1a1a" stroke-width="1.8"/>
<text x="755.90" y="221.18" text-anchor="end" font-size="23.5" fill="#ff1a1a">0.5</text>
<path d="M761.90 150.85H767.90" stroke="#ff1a1a" stroke-width="1.8"/>
<text x="755.90" y="159.15" text-anchor="end" font-size="23.5" fill="#ff1a1a">1.0</text>
<path d="M1343.70 440.30H1349.70" stroke="#0a0af8" stroke-width="1.8"/>
<text x="1355.70" y="448.60" text-anchor="start" font-size="23.5" fill="#0a0af8">−20</text>
<path d="M1343.70 357.60H1349.70" stroke="#0a0af8" stroke-width="1.8"/>
<text x="1355.70" y="365.90" text-anchor="start" font-size="23.5" fill="#0a0af8">−10</text>
<path d="M1343.70 274.90H1349.70" stroke="#0a0af8" stroke-width="1.8"/>
<text x="1355.70" y="283.20" text-anchor="start" font-size="23.5" fill="#0a0af8">0</text>
<path d="M1343.70 192.20H1349.70" stroke="#0a0af8" stroke-width="1.8"/>
<text x="1355.70" y="200.50" text-anchor="start" font-size="23.5" fill="#0a0af8">10</text>
<path d="M1343.70 109.50H1349.70" stroke="#0a0af8" stroke-width="1.8"/>
<text x="1355.70" y="117.80" text-anchor="start" font-size="23.5" fill="#0a0af8">20</text>
<text x="1055.80" y="581.50" text-anchor="middle" font-size="26.5">Dataset number - train</text>
<text transform="translate(702 274.9) rotate(-90)" text-anchor="middle" font-size="26.5" fill="#ff1a1a">Absolute error</text>
<text transform="translate(1417 275.9) rotate(-90)" text-anchor="middle" font-size="27" fill="#0a0af8">Relative error (%)</text>
<text x="715" y="38.5" font-size="32">(b)</text>
<g fill="#ff7648">
<circle cx="113.0" cy="965.3" r="6.2"/>
<circle cx="118.2" cy="828.9" r="6.2"/>
<circle cx="123.5" cy="946.7" r="6.2"/>
<circle cx="128.8" cy="895.0" r="6.2"/>
<circle cx="134.1" cy="923.2" r="6.2"/>
<circle cx="139.4" cy="850.0" r="6.2"/>
<circle cx="144.7" cy="968.6" r="6.2"/>
<circle cx="150.0" cy="840.9" r="6.2"/>
<circle cx="155.2" cy="863.6" r="6.2"/>
<circle cx="160.5" cy="875.6" r="6.2"/>
<circle cx="165.8" cy="917.8" r="6.2"/>
<circle cx="171.1" cy="894.2" r="6.2"/>
<circle cx="176.4" cy="932.3" r="6.2"/>
<circle cx="181.7" cy="830.6" r="6.2"/>
<circle cx="187.0" cy="906.2" r="6.2"/>
<circle cx="192.2" cy="895.0" r="6.2"/>
<circle cx="197.5" cy="794.6" r="6.2"/>
<circle cx="202.8" cy="865.7" r="6.2"/>
<circle cx="208.1" cy="832.6" r="6.2"/>
<circle cx="213.4" cy="909.5" r="6.2"/>
<circle cx="218.7" cy="682.6" r="6.2"/>
<circle cx="224.0" cy="883.9" r="6.2"/>
<circle cx="229.2" cy="952.5" r="6.2"/>
<circle cx="234.5" cy="918.2" r="6.2"/>
<circle cx="239.8" cy="884.7" r="6.2"/>
<circle cx="245.1" cy="923.6" r="6.2"/>
<circle cx="250.4" cy="900.0" r="6.2"/>
<circle cx="255.7" cy="888.0" r="6.2"/>
<circle cx="261.0" cy="828.9" r="6.2"/>
<circle cx="266.2" cy="893.4" r="6.2"/>
<circle cx="271.5" cy="831.4" r="6.2"/>
<circle cx="276.8" cy="806.2" r="6.2"/>
<circle cx="282.1" cy="930.2" r="6.2"/>
<circle cx="287.4" cy="830.1" r="6.2"/>
<circle cx="292.7" cy="966.2" r="6.2"/>
<circle cx="298.0" cy="894.6" r="6.2"/>
<circle cx="303.2" cy="789.2" r="6.2"/>
<circle cx="308.5" cy="894.6" r="6.2"/>
<circle cx="313.8" cy="859.1" r="6.2"/>
<circle cx="319.1" cy="932.3" r="6.2"/>
<circle cx="324.4" cy="820.6" r="6.2"/>
<circle cx="329.7" cy="974.4" r="6.2"/>
<circle cx="335.0" cy="769.8" r="6.2"/>
<circle cx="340.2" cy="892.6" r="6.2"/>
<circle cx="345.5" cy="872.7" r="6.2"/>
<circle cx="350.8" cy="925.6" r="6.2"/>
<circle cx="356.1" cy="820.6" r="6.2"/>
<circle cx="361.4" cy="860.7" r="6.2"/>
<circle cx="366.7" cy="810.3" r="6.2"/>
<circle cx="372.0" cy="869.8" r="6.2"/>
<circle cx="377.2" cy="911.2" r="6.2"/>
<circle cx="382.5" cy="823.5" r="6.2"/>
<circle cx="387.8" cy="789.2" r="6.2"/>
<circle cx="393.1" cy="885.5" r="6.2"/>
<circle cx="398.4" cy="849.2" r="6.2"/>
<circle cx="403.7" cy="873.6" r="6.2"/>
<circle cx="409.0" cy="843.4" r="6.2"/>
<circle cx="414.2" cy="914.9" r="6.2"/>
<circle cx="419.5" cy="901.7" r="6.2"/>
<circle cx="424.8" cy="924.8" r="6.2"/>
<circle cx="430.1" cy="718.1" r="6.2"/>
<circle cx="435.4" cy="913.7" r="6.2"/>
<circle cx="440.7" cy="943.8" r="6.2"/>
<circle cx="446.0" cy="938.0" r="6.2"/>
<circle cx="451.2" cy="920.3" r="6.2"/>
<circle cx="456.5" cy="923.2" r="6.2"/>
<circle cx="461.8" cy="856.2" r="6.2"/>
<circle cx="467.1" cy="855.4" r="6.2"/>
<circle cx="472.4" cy="744.6" r="6.2"/>
<circle cx="477.7" cy="901.7" r="6.2"/>
<circle cx="483.0" cy="821.5" r="6.2"/>
<circle cx="488.2" cy="877.7" r="6.2"/>
<circle cx="493.5" cy="946.7" r="6.2"/>
<circle cx="498.8" cy="916.5" r="6.2"/>
<circle cx="504.1" cy="901.7" r="6.2"/>
<circle cx="509.4" cy="832.2" r="6.2"/>
<circle cx="514.7" cy="879.8" r="6.2"/>
<circle cx="520.0" cy="848.7" r="6.2"/>
<circle cx="525.2" cy="924.0" r="6.2"/>
<circle cx="530.5" cy="817.7" r="6.2"/>
<circle cx="535.8" cy="872.7" r="6.2"/>
<circle cx="541.1" cy="810.3" r="6.2"/>
<circle cx="546.4" cy="871.9" r="6.2"/>
<circle cx="551.7" cy="823.5" r="6.2"/>
<circle cx="557.0" cy="817.7" r="6.2"/>
<circle cx="562.2" cy="856.2" r="6.2"/>
<circle cx="567.5" cy="832.2" r="6.2"/>
<circle cx="572.8" cy="889.3" r="6.2"/>
<circle cx="578.1" cy="890.5" r="6.2"/>
<circle cx="583.4" cy="743.7" r="6.2"/>
<circle cx="588.7" cy="801.2" r="6.2"/>
<circle cx="594.0" cy="963.3" r="6.2"/>
<circle cx="599.2" cy="864.5" r="6.2"/>
<circle cx="604.5" cy="850.8" r="6.2"/>
<circle cx="609.8" cy="971.5" r="6.2"/>
<circle cx="615.1" cy="865.7" r="6.2"/>
<circle cx="620.4" cy="883.9" r="6.2"/>
<circle cx="625.7" cy="950.4" r="6.2"/>
<circle cx="631.0" cy="868.2" r="6.2"/>
<circle cx="636.2" cy="876.9" r="6.2"/>
</g>
<g fill="#8800e4">
<circle cx="113.0" cy="961.2" r="6.2"/>
<circle cx="118.2" cy="802.9" r="6.2"/>
<circle cx="123.5" cy="960.8" r="6.2"/>
<circle cx="128.8" cy="906.2" r="6.2"/>
<circle cx="134.1" cy="923.2" r="6.2"/>
<circle cx="139.4" cy="843.4" r="6.2"/>
<circle cx="144.7" cy="962.4" r="6.2"/>
<circle cx="150.0" cy="811.1" r="6.2"/>
<circle cx="155.2" cy="875.6" r="6.2"/>
<circle cx="160.5" cy="875.6" r="6.2"/>
<circle cx="165.8" cy="928.1" r="6.2"/>
<circle cx="171.1" cy="906.6" r="6.2"/>
<circle cx="176.4" cy="938.5" r="6.2"/>
<circle cx="181.7" cy="838.8" r="6.2"/>
<circle cx="187.0" cy="881.4" r="6.2"/>
<circle cx="192.2" cy="904.6" r="6.2"/>
<circle cx="197.5" cy="789.2" r="6.2"/>
<circle cx="202.8" cy="849.2" r="6.2"/>
<circle cx="208.1" cy="822.3" r="6.2"/>
<circle cx="213.4" cy="891.7" r="6.2"/>
<circle cx="218.7" cy="752.8" r="6.2"/>
<circle cx="224.0" cy="908.7" r="6.2"/>
<circle cx="229.2" cy="952.5" r="6.2"/>
<circle cx="234.5" cy="915.7" r="6.2"/>
<circle cx="239.8" cy="892.2" r="6.2"/>
<circle cx="245.1" cy="938.0" r="6.2"/>
<circle cx="250.4" cy="883.1" r="6.2"/>
<circle cx="255.7" cy="888.0" r="6.2"/>
<circle cx="261.0" cy="853.7" r="6.2"/>
<circle cx="266.2" cy="877.3" r="6.2"/>
<circle cx="271.5" cy="856.2" r="6.2"/>
<circle cx="276.8" cy="847.9" r="6.2"/>
<circle cx="282.1" cy="923.6" r="6.2"/>
<circle cx="287.4" cy="855.4" r="6.2"/>
<circle cx="292.7" cy="978.1" r="6.2"/>
<circle cx="298.0" cy="878.9" r="6.2"/>
<circle cx="303.2" cy="828.9" r="6.2"/>
<circle cx="308.5" cy="887.2" r="6.2"/>
<circle cx="313.8" cy="872.7" r="6.2"/>
<circle cx="319.1" cy="932.3" r="6.2"/>
<circle cx="324.4" cy="831.4" r="6.2"/>
<circle cx="329.7" cy="979.0" r="6.2"/>
<circle cx="335.0" cy="791.7" r="6.2"/>
<circle cx="340.2" cy="911.2" r="6.2"/>
<circle cx="345.5" cy="883.1" r="6.2"/>
<circle cx="350.8" cy="918.2" r="6.2"/>
<circle cx="356.1" cy="814.4" r="6.2"/>
<circle cx="361.4" cy="863.6" r="6.2"/>
<circle cx="366.7" cy="841.7" r="6.2"/>
<circle cx="372.0" cy="865.3" r="6.2"/>
<circle cx="377.2" cy="902.9" r="6.2"/>
<circle cx="382.5" cy="819.8" r="6.2"/>
<circle cx="387.8" cy="797.9" r="6.2"/>
<circle cx="393.1" cy="890.1" r="6.2"/>
<circle cx="398.4" cy="875.6" r="6.2"/>
<circle cx="403.7" cy="884.7" r="6.2"/>
<circle cx="409.0" cy="837.2" r="6.2"/>
<circle cx="414.2" cy="902.9" r="6.2"/>
<circle cx="419.5" cy="886.4" r="6.2"/>
<circle cx="424.8" cy="933.1" r="6.2"/>
<circle cx="430.1" cy="761.5" r="6.2"/>
<circle cx="435.4" cy="892.2" r="6.2"/>
<circle cx="440.7" cy="955.8" r="6.2"/>
<circle cx="446.0" cy="938.9" r="6.2"/>
<circle cx="451.2" cy="950.4" r="6.2"/>
<circle cx="456.5" cy="924.4" r="6.2"/>
<circle cx="461.8" cy="878.1" r="6.2"/>
<circle cx="467.1" cy="845.9" r="6.2"/>
<circle cx="472.4" cy="789.2" r="6.2"/>
<circle cx="477.7" cy="897.5" r="6.2"/>
<circle cx="483.0" cy="814.8" r="6.2"/>
<circle cx="488.2" cy="865.3" r="6.2"/>
<circle cx="493.5" cy="930.2" r="6.2"/>
<circle cx="498.8" cy="934.3" r="6.2"/>
<circle cx="504.1" cy="893.4" r="6.2"/>
<circle cx="509.4" cy="831.4" r="6.2"/>
<circle cx="514.7" cy="873.6" r="6.2"/>
<circle cx="520.0" cy="893.4" r="6.2"/>
<circle cx="525.2" cy="938.5" r="6.2"/>
<circle cx="530.5" cy="833.4" r="6.2"/>
<circle cx="535.8" cy="878.9" r="6.2"/>
<circle cx="541.1" cy="857.0" r="6.2"/>
<circle cx="546.4" cy="895.9" r="6.2"/>
<circle cx="551.7" cy="808.2" r="6.2"/>
<circle cx="557.0" cy="850.8" r="6.2"/>
<circle cx="562.2" cy="860.3" r="6.2"/>
<circle cx="567.5" cy="847.9" r="6.2"/>
<circle cx="572.8" cy="895.9" r="6.2"/>
<circle cx="578.1" cy="850.0" r="6.2"/>
<circle cx="583.4" cy="747.9" r="6.2"/>
<circle cx="588.7" cy="805.3" r="6.2"/>
<circle cx="594.0" cy="962.0" r="6.2"/>
<circle cx="599.2" cy="877.3" r="6.2"/>
<circle cx="604.5" cy="850.8" r="6.2"/>
<circle cx="609.8" cy="957.9" r="6.2"/>
<circle cx="615.1" cy="850.0" r="6.2"/>
<circle cx="620.4" cy="878.1" r="6.2"/>
<circle cx="625.7" cy="958.7" r="6.2"/>
<circle cx="631.0" cy="868.2" r="6.2"/>
<circle cx="636.2" cy="893.8" r="6.2"/>
</g>
<path d="M86.80 619.30H662.40M86.80 1115.40H662.40M86.80 619.30V1115.40" stroke="#4a4a4a" stroke-width="2" fill="none" stroke-linecap="square"/>
<path d="M662.40 619.30V1115.40" stroke="#4a4a4a" stroke-width="2" fill="none"/>
<path d="M112.96 1115.40V1121.40" stroke="#4a4a4a" stroke-width="1.8"/>
<text x="112.96" y="1143.40" text-anchor="middle" font-size="23.5">0</text>
<path d="M218.68 1115.40V1121.40" stroke="#4a4a4a" stroke-width="1.8"/>
<text x="218.68" y="1143.40" text-anchor="middle" font-size="23.5">20</text>
<path d="M324.39 1115.40V1121.40" stroke="#4a4a4a" stroke-width="1.8"/>
<text x="324.39" y="1143.40" text-anchor="middle" font-size="23.5">40</text>
<path d="M430.10 1115.40V1121.40" stroke="#4a4a4a" stroke-width="1.8"/>
<text x="430.10" y="1143.40" text-anchor="middle" font-size="23.5">60</text>
<path d="M535.81 1115.40V1121.40" stroke="#4a4a4a" stroke-width="1.8"/>
<text x="535.81" y="1143.40" text-anchor="middle" font-size="23.5">80</text>
<path d="M641.52 1115.40V1121.40" stroke="#4a4a4a" stroke-width="1.8"/>
<text x="641.52" y="1143.40" text-anchor="middle" font-size="23.5">100</text>
<path d="M80.80 1115.40H86.80" stroke="#4a4a4a" stroke-width="1.8"/>
<text x="74.80" y="1123.70" text-anchor="end" font-size="23.5" fill="#111">0</text>
<path d="M80.80 1032.72H86.80" stroke="#4a4a4a" stroke-width="1.8"/>
<text x="74.80" y="1041.02" text-anchor="end" font-size="23.5" fill="#111">2</text>
<path d="M80.80 950.03H86.80" stroke="#4a4a4a" stroke-width="1.8"/>
<text x="74.80" y="958.33" text-anchor="end" font-size="23.5" fill="#111">4</text>
<path d="M80.80 867.35H86.80" stroke="#4a4a4a" stroke-width="1.8"/>
<text x="74.80" y="875.65" text-anchor="end" font-size="23.5" fill="#111">6</text>
<path d="M80.80 784.67H86.80" stroke="#4a4a4a" stroke-width="1.8"/>
<text x="74.80" y="792.97" text-anchor="end" font-size="23.5" fill="#111">8</text>
<path d="M80.80 701.98H86.80" stroke="#4a4a4a" stroke-width="1.8"/>
<text x="74.80" y="710.28" text-anchor="end" font-size="23.5" fill="#111">10</text>
<path d="M80.80 619.30H86.80" stroke="#4a4a4a" stroke-width="1.8"/>
<text x="74.80" y="627.60" text-anchor="end" font-size="23.5" fill="#111">12</text>
<text x="374.60" y="1175.70" text-anchor="middle" font-size="26.5">Dataset number - test</text>
<circle cx="471.3" cy="650.3" r="5.8" fill="#ff7648"/>
<circle cx="471.3" cy="683.5" r="5.8" fill="#8800e4"/>
<text x="514" y="656.0" font-size="23.5">Ground Truth</text>
<text x="514" y="689.4" font-size="23.5">Prediction</text>
<g transform="translate(5 916.6) rotate(-90)" fill="#111"><text transform="translate(-1 20.8) scale(1.246 1)" font-size="26.8" font-style="italic">σ</text><text transform="translate(16.7 25.4) scale(1.24 1)" font-size="22.5" font-style="italic">max</text><path d="M64.3 44.3L77.8 9.7" stroke="#111" stroke-width="2.2" fill="none"/><text transform="translate(77.9 43.5) scale(1.246 1)" font-size="26.8" font-style="italic">σ</text><text transform="translate(95.6 51.4) scale(0.905 1)" font-size="28">∞</text></g>
<text x="4" y="639" font-size="32">(c)</text>
<clipPath id="clip619"><rect x="767.9" y="619.3" width="575.8000000000001" height="496.10000000000014"/></clipPath>
<polyline clip-path="url(#clip619)" points="794.1,854.9 799.4,789.2 804.6,909.5 809.9,900.8 815.2,867.4 820.5,847.5 825.8,848.7 831.1,778.1 836.4,903.3 841.7,867.4 846.9,898.4 852.2,904.6 857.5,886.0 862.8,892.2 868.1,792.9 873.4,895.9 878.7,851.2 884.0,817.7 889.2,836.3 894.5,814.0 899.8,1078.2 905.1,941.8 910.4,867.4 915.7,859.9 921.0,889.7 926.3,910.8 931.5,816.5 936.8,867.4 942.1,941.8 947.4,819.0 952.7,941.8 958.0,992.6 963.3,847.5 968.6,943.0 973.8,903.3 979.1,820.2 984.4,986.4 989.7,845.0 995.0,908.3 1000.3,867.4 1005.6,899.6 1010.9,881.0 1016.1,933.1 1021.4,923.2 1026.7,898.4 1032.0,845.0 1037.3,848.7 1042.6,876.0 1047.9,961.6 1053.2,853.7 1058.4,842.5 1063.7,856.2 1069.0,893.4 1074.3,881.0 1079.6,946.7 1084.9,900.8 1090.2,848.7 1095.5,831.4 1100.7,821.5 1106.0,892.2 1111.3,997.6 1116.6,802.9 1121.9,903.3 1127.2,869.8 1132.5,957.9 1137.8,871.1 1143.0,933.1 1148.3,838.8 1153.6,1001.3 1158.9,854.9 1164.2,847.5 1169.5,830.1 1174.8,817.7 1180.1,920.7 1185.3,842.5 1190.6,864.9 1195.9,848.7 1201.2,1001.3 1206.5,910.8 1211.8,914.5 1217.1,886.0 1222.4,1007.5 1227.6,939.3 1232.9,821.5 1238.2,966.6 1243.5,879.8 1248.8,914.5 1254.1,887.2 1259.4,745.8 1264.7,879.8 1269.9,879.8 1275.2,863.6 1280.5,905.8 1285.8,867.4 1291.1,826.4 1296.4,820.2 1301.7,850.0 1307.0,892.2 1312.2,867.4 1317.5,918.2" fill="none" stroke="#ff1a1a" stroke-width="2.7" stroke-linejoin="round"/>
<path d="M1081.6 688.3H1130.7" stroke="#ff1a1a" stroke-width="2.4"/>
<text x="1149" y="695.0" font-size="23.5">Absolute Error</text>
<polyline clip-path="url(#clip619)" points="794.1,844.6 799.4,792.2 804.6,936.3 809.9,909.2 815.2,867.4 820.5,846.7 825.8,832.4 831.1,777.7 836.4,906.7 841.7,867.4 846.9,910.6 852.2,913.7 857.5,895.3 862.8,891.4 868.1,769.3 873.4,903.0 878.7,853.5 884.0,812.6 889.2,837.1 894.5,796.0 899.8,1001.6 905.1,955.9 910.4,867.4 915.7,856.9 921.0,894.0 926.3,929.7 931.5,802.3 936.8,867.4 942.1,938.9 947.4,807.3 952.7,939.6 958.0,979.0 963.3,837.8 968.6,940.4 973.8,933.8 979.1,808.5 984.4,968.0 989.7,839.5 995.0,911.4 1000.3,867.4 1005.6,897.5 1010.9,894.0 1016.1,919.8 1021.4,936.4 1026.7,902.6 1032.0,834.9 1037.3,850.0 1042.6,876.7 1047.9,952.5 1053.2,852.0 1058.4,833.9 1063.7,856.8 1069.0,889.4 1074.3,883.7 1079.6,949.5 1084.9,905.5 1090.2,848.5 1095.5,817.9 1100.7,808.2 1106.0,903.2 1111.3,957.7 1116.6,779.2 1121.9,925.1 1127.2,871.2 1132.5,995.2 1137.8,872.7 1143.0,937.2 1148.3,837.1 1153.6,966.9 1158.9,851.4 1164.2,848.7 1169.5,824.2 1174.8,786.3 1180.1,941.3 1185.3,835.4 1190.6,864.9 1195.9,845.6 1201.2,1005.8 1206.5,929.9 1211.8,911.0 1217.1,888.5 1222.4,994.0 1227.6,948.8 1232.9,824.0 1238.2,959.2 1243.5,880.5 1248.8,913.2 1254.1,891.5 1259.4,718.4 1264.7,876.5 1269.9,878.2 1275.2,860.6 1280.5,909.6 1285.8,867.4 1291.1,788.9 1296.4,815.3 1301.7,846.7 1307.0,908.8 1312.2,867.4 1317.5,926.1" fill="none" stroke="#0a0af8" stroke-width="2.7" stroke-linejoin="round"/>
<rect x="1072" y="627.3" width="262" height="43.5" fill="#fff" fill-opacity="0.8"/>
<path d="M1081.6 648.0H1130.7" stroke="#0a0af8" stroke-width="2.4"/>
<text x="1149" y="655.7" font-size="23.5">Relative Error (%)</text>
<path d="M767.90 619.30H1343.70M767.90 1115.40H1343.70M767.90 619.30V1115.40" stroke="#4a4a4a" stroke-width="2" fill="none" stroke-linecap="square"/>
<path d="M1343.70 619.30V1115.40" stroke="#7468dc" stroke-width="2" fill="none"/>
<path d="M794.07 1115.40V1121.40" stroke="#4a4a4a" stroke-width="1.8"/>
<text x="794.07" y="1143.40" text-anchor="middle" font-size="23.5">0</text>
<path d="M899.82 1115.40V1121.40" stroke="#4a4a4a" stroke-width="1.8"/>
<text x="899.82" y="1143.40" text-anchor="middle" font-size="23.5">20</text>
<path d="M1005.57 1115.40V1121.40" stroke="#4a4a4a" stroke-width="1.8"/>
<text x="1005.57" y="1143.40" text-anchor="middle" font-size="23.5">40</text>
<path d="M1111.32 1115.40V1121.40" stroke="#4a4a4a" stroke-width="1.8"/>
<text x="1111.32" y="1143.40" text-anchor="middle" font-size="23.5">60</text>
<path d="M1217.07 1115.40V1121.40" stroke="#4a4a4a" stroke-width="1.8"/>
<text x="1217.07" y="1143.40" text-anchor="middle" font-size="23.5">80</text>
<path d="M1322.81 1115.40V1121.40" stroke="#4a4a4a" stroke-width="1.8"/>
<text x="1322.81" y="1143.40" text-anchor="middle" font-size="23.5">100</text>
<path d="M761.90 991.38H767.90" stroke="#ff1a1a" stroke-width="1.8"/>
<text x="755.90" y="999.67" text-anchor="end" font-size="23.5" fill="#ff1a1a">−1.0</text>
<path d="M761.90 929.36H767.90" stroke="#ff1a1a" stroke-width="1.8"/>
<text x="755.90" y="937.66" text-anchor="end" font-size="23.5" fill="#ff1a1a">−0.5</text>
<path d="M761.90 867.35H767.90" stroke="#ff1a1a" stroke-width="1.8"/>
<text x="755.90" y="875.65" text-anchor="end" font-size="23.5" fill="#ff1a1a">0.0</text>
<path d="M761.90 805.34H767.90" stroke="#ff1a1a" stroke-width="1.8"/>
<text x="755.90" y="813.64" text-anchor="end" font-size="23.5" fill="#ff1a1a">0.5</text>
<path d="M761.90 743.33H767.90" stroke="#ff1a1a" stroke-width="1.8"/>
<text x="755.90" y="751.62" text-anchor="end" font-size="23.5" fill="#ff1a1a">1.0</text>
<path d="M1343.70 1032.72H1349.70" stroke="#0a0af8" stroke-width="1.8"/>
<text x="1355.70" y="1041.02" text-anchor="start" font-size="23.5" fill="#0a0af8">−20</text>
<path d="M1343.70 950.03H1349.70" stroke="#0a0af8" stroke-width="1.8"/>
<text x="1355.70" y="958.33" text-anchor="start" font-size="23.5" fill="#0a0af8">−10</text>
<path d="M1343.70 867.35H1349.70" stroke="#0a0af8" stroke-width="1.8"/>
<text x="1355.70" y="875.65" text-anchor="start" font-size="23.5" fill="#0a0af8">0</text>
<path d="M1343.70 784.67H1349.70" stroke="#0a0af8" stroke-width="1.8"/>
<text x="1355.70" y="792.97" text-anchor="start" font-size="23.5" fill="#0a0af8">10</text>
<path d="M1343.70 701.98H1349.70" stroke="#0a0af8" stroke-width="1.8"/>
<text x="1355.70" y="710.28" text-anchor="start" font-size="23.5" fill="#0a0af8">20</text>
<text x="1055.80" y="1175.70" text-anchor="middle" font-size="26.5">Dataset number - test</text>
<text transform="translate(702 867.4) rotate(-90)" text-anchor="middle" font-size="26.5" fill="#ff1a1a">Absolute error</text>
<text transform="translate(1417 868.4) rotate(-90)" text-anchor="middle" font-size="27" fill="#0a0af8">Relative error (%)</text>
<text x="715" y="638.5" font-size="32">(d)</text>
</svg></body></html>
